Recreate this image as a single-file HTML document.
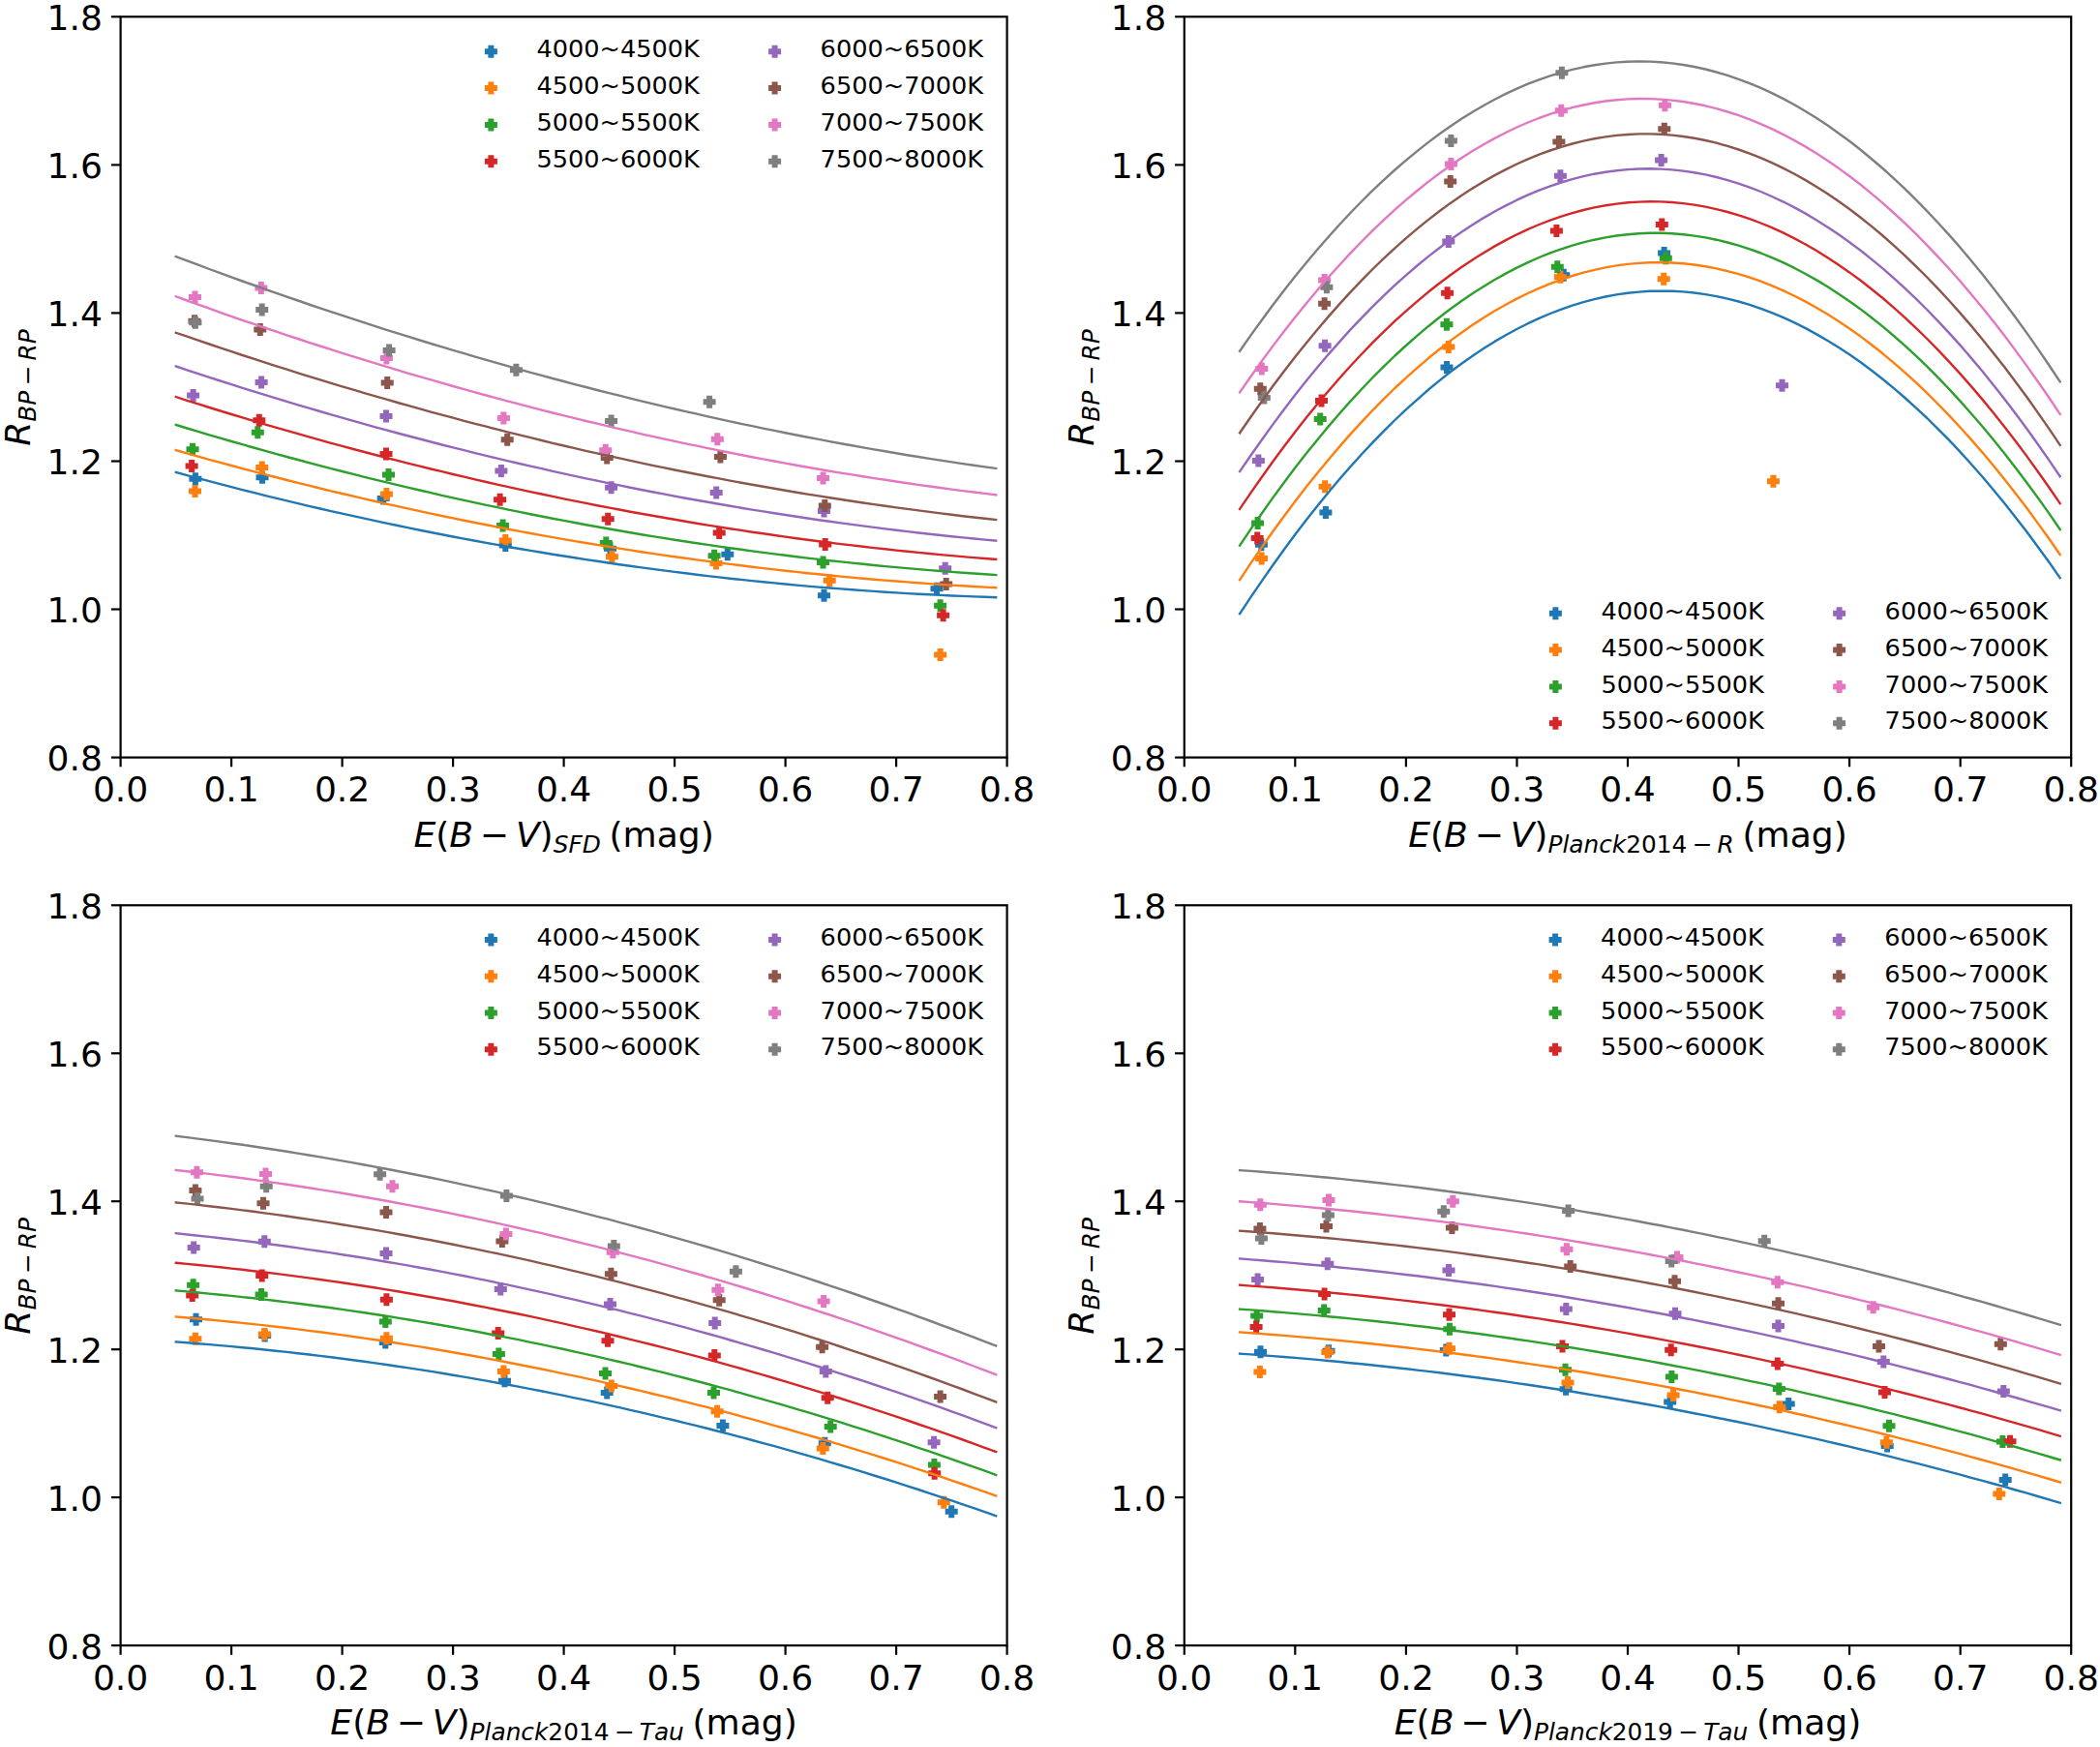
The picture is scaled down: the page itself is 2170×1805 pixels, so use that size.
<!DOCTYPE html>
<html><head><meta charset="utf-8"><title>R_BP-RP vs E(B-V)</title><style>html,body{margin:0;padding:0;background:#fff}svg{display:block}</style></head><body>
<svg width="2170" height="1805" viewBox="0 0 2170 1805" font-family="'DejaVu Sans','Liberation Sans',sans-serif">
<rect width="2170" height="1805" fill="#fff"/>
<g><path d="M198.9 488.2h6.0v3.5h3.5v6.0h-3.5v3.5h-6.0v-3.5h-3.5v-6.0h3.5z" fill="#1f77b4"/>
<path d="M268.0 486.8h6.0v3.5h3.5v6.0h-3.5v3.5h-6.0v-3.5h-3.5v-6.0h3.5z" fill="#1f77b4"/>
<path d="M393.2 508.4h6.0v3.5h3.5v6.0h-3.5v3.5h-6.0v-3.5h-3.5v-6.0h3.5z" fill="#1f77b4"/>
<path d="M519.3 556.9h6.0v3.5h3.5v6.0h-3.5v3.5h-6.0v-3.5h-3.5v-6.0h3.5z" fill="#1f77b4"/>
<path d="M627.5 560.2h6.0v3.5h3.5v6.0h-3.5v3.5h-6.0v-3.5h-3.5v-6.0h3.5z" fill="#1f77b4"/>
<path d="M748.8 566.3h6.0v3.5h3.5v6.0h-3.5v3.5h-6.0v-3.5h-3.5v-6.0h3.5z" fill="#1f77b4"/>
<path d="M848.5 608.8h6.0v3.5h3.5v6.0h-3.5v3.5h-6.0v-3.5h-3.5v-6.0h3.5z" fill="#1f77b4"/>
<path d="M965.0 601.7h6.0v3.5h3.5v6.0h-3.5v3.5h-6.0v-3.5h-3.5v-6.0h3.5z" fill="#1f77b4"/>
<path d="M198.5 501.1h6.0v3.5h3.5v6.0h-3.5v3.5h-6.0v-3.5h-3.5v-6.0h3.5z" fill="#ff7f0e"/>
<path d="M267.7 476.4h6.0v3.5h3.5v6.0h-3.5v3.5h-6.0v-3.5h-3.5v-6.0h3.5z" fill="#ff7f0e"/>
<path d="M396.4 504.0h6.0v3.5h3.5v6.0h-3.5v3.5h-6.0v-3.5h-3.5v-6.0h3.5z" fill="#ff7f0e"/>
<path d="M519.3 552.0h6.0v3.5h3.5v6.0h-3.5v3.5h-6.0v-3.5h-3.5v-6.0h3.5z" fill="#ff7f0e"/>
<path d="M629.4 568.7h6.0v3.5h3.5v6.0h-3.5v3.5h-6.0v-3.5h-3.5v-6.0h3.5z" fill="#ff7f0e"/>
<path d="M737.0 575.4h6.0v3.5h3.5v6.0h-3.5v3.5h-6.0v-3.5h-3.5v-6.0h3.5z" fill="#ff7f0e"/>
<path d="M854.2 593.3h6.0v3.5h3.5v6.0h-3.5v3.5h-6.0v-3.5h-3.5v-6.0h3.5z" fill="#ff7f0e"/>
<path d="M968.6 670.1h6.0v3.5h3.5v6.0h-3.5v3.5h-6.0v-3.5h-3.5v-6.0h3.5z" fill="#ff7f0e"/>
<path d="M196.0 457.7h6.0v3.5h3.5v6.0h-3.5v3.5h-6.0v-3.5h-3.5v-6.0h3.5z" fill="#2ca02c"/>
<path d="M263.3 440.2h6.0v3.5h3.5v6.0h-3.5v3.5h-6.0v-3.5h-3.5v-6.0h3.5z" fill="#2ca02c"/>
<path d="M398.5 484.0h6.0v3.5h3.5v6.0h-3.5v3.5h-6.0v-3.5h-3.5v-6.0h3.5z" fill="#2ca02c"/>
<path d="M516.6 536.4h6.0v3.5h3.5v6.0h-3.5v3.5h-6.0v-3.5h-3.5v-6.0h3.5z" fill="#2ca02c"/>
<path d="M623.3 554.5h6.0v3.5h3.5v6.0h-3.5v3.5h-6.0v-3.5h-3.5v-6.0h3.5z" fill="#2ca02c"/>
<path d="M735.1 567.8h6.0v3.5h3.5v6.0h-3.5v3.5h-6.0v-3.5h-3.5v-6.0h3.5z" fill="#2ca02c"/>
<path d="M847.5 574.6h6.0v3.5h3.5v6.0h-3.5v3.5h-6.0v-3.5h-3.5v-6.0h3.5z" fill="#2ca02c"/>
<path d="M968.6 619.2h6.0v3.5h3.5v6.0h-3.5v3.5h-6.0v-3.5h-3.5v-6.0h3.5z" fill="#2ca02c"/>
<path d="M195.1 475.0h6.0v3.5h3.5v6.0h-3.5v3.5h-6.0v-3.5h-3.5v-6.0h3.5z" fill="#d62728"/>
<path d="M264.8 427.8h6.0v3.5h3.5v6.0h-3.5v3.5h-6.0v-3.5h-3.5v-6.0h3.5z" fill="#d62728"/>
<path d="M396.0 462.6h6.0v3.5h3.5v6.0h-3.5v3.5h-6.0v-3.5h-3.5v-6.0h3.5z" fill="#d62728"/>
<path d="M513.6 509.7h6.0v3.5h3.5v6.0h-3.5v3.5h-6.0v-3.5h-3.5v-6.0h3.5z" fill="#d62728"/>
<path d="M625.2 529.7h6.0v3.5h3.5v6.0h-3.5v3.5h-6.0v-3.5h-3.5v-6.0h3.5z" fill="#d62728"/>
<path d="M740.2 544.0h6.0v3.5h3.5v6.0h-3.5v3.5h-6.0v-3.5h-3.5v-6.0h3.5z" fill="#d62728"/>
<path d="M849.7 556.0h6.0v3.5h3.5v6.0h-3.5v3.5h-6.0v-3.5h-3.5v-6.0h3.5z" fill="#d62728"/>
<path d="M971.6 629.2h6.0v3.5h3.5v6.0h-3.5v3.5h-6.0v-3.5h-3.5v-6.0h3.5z" fill="#d62728"/>
<path d="M196.6 402.1h6.0v3.5h3.5v6.0h-3.5v3.5h-6.0v-3.5h-3.5v-6.0h3.5z" fill="#9467bd"/>
<path d="M267.1 388.5h6.0v3.5h3.5v6.0h-3.5v3.5h-6.0v-3.5h-3.5v-6.0h3.5z" fill="#9467bd"/>
<path d="M396.0 423.6h6.0v3.5h3.5v6.0h-3.5v3.5h-6.0v-3.5h-3.5v-6.0h3.5z" fill="#9467bd"/>
<path d="M514.9 480.0h6.0v3.5h3.5v6.0h-3.5v3.5h-6.0v-3.5h-3.5v-6.0h3.5z" fill="#9467bd"/>
<path d="M628.6 497.3h6.0v3.5h3.5v6.0h-3.5v3.5h-6.0v-3.5h-3.5v-6.0h3.5z" fill="#9467bd"/>
<path d="M737.2 502.5h6.0v3.5h3.5v6.0h-3.5v3.5h-6.0v-3.5h-3.5v-6.0h3.5z" fill="#9467bd"/>
<path d="M848.5 521.6h6.0v3.5h3.5v6.0h-3.5v3.5h-6.0v-3.5h-3.5v-6.0h3.5z" fill="#9467bd"/>
<path d="M973.7 580.8h6.0v3.5h3.5v6.0h-3.5v3.5h-6.0v-3.5h-3.5v-6.0h3.5z" fill="#9467bd"/>
<path d="M198.0 325.3h6.0v3.5h3.5v6.0h-3.5v3.5h-6.0v-3.5h-3.5v-6.0h3.5z" fill="#8c564b"/>
<path d="M265.8 333.9h6.0v3.5h3.5v6.0h-3.5v3.5h-6.0v-3.5h-3.5v-6.0h3.5z" fill="#8c564b"/>
<path d="M397.2 389.1h6.0v3.5h3.5v6.0h-3.5v3.5h-6.0v-3.5h-3.5v-6.0h3.5z" fill="#8c564b"/>
<path d="M521.2 447.8h6.0v3.5h3.5v6.0h-3.5v3.5h-6.0v-3.5h-3.5v-6.0h3.5z" fill="#8c564b"/>
<path d="M624.2 466.5h6.0v3.5h3.5v6.0h-3.5v3.5h-6.0v-3.5h-3.5v-6.0h3.5z" fill="#8c564b"/>
<path d="M741.4 465.5h6.0v3.5h3.5v6.0h-3.5v3.5h-6.0v-3.5h-3.5v-6.0h3.5z" fill="#8c564b"/>
<path d="M849.3 516.1h6.0v3.5h3.5v6.0h-3.5v3.5h-6.0v-3.5h-3.5v-6.0h3.5z" fill="#8c564b"/>
<path d="M974.7 596.9h6.0v3.5h3.5v6.0h-3.5v3.5h-6.0v-3.5h-3.5v-6.0h3.5z" fill="#8c564b"/>
<path d="M198.5 300.5h6.0v3.5h3.5v6.0h-3.5v3.5h-6.0v-3.5h-3.5v-6.0h3.5z" fill="#e377c2"/>
<path d="M266.9 291.0h6.0v3.5h3.5v6.0h-3.5v3.5h-6.0v-3.5h-3.5v-6.0h3.5z" fill="#e377c2"/>
<path d="M396.4 363.6h6.0v3.5h3.5v6.0h-3.5v3.5h-6.0v-3.5h-3.5v-6.0h3.5z" fill="#e377c2"/>
<path d="M517.4 425.5h6.0v3.5h3.5v6.0h-3.5v3.5h-6.0v-3.5h-3.5v-6.0h3.5z" fill="#e377c2"/>
<path d="M622.7 458.8h6.0v3.5h3.5v6.0h-3.5v3.5h-6.0v-3.5h-3.5v-6.0h3.5z" fill="#e377c2"/>
<path d="M738.3 447.2h6.0v3.5h3.5v6.0h-3.5v3.5h-6.0v-3.5h-3.5v-6.0h3.5z" fill="#e377c2"/>
<path d="M847.5 487.5h6.0v3.5h3.5v6.0h-3.5v3.5h-6.0v-3.5h-3.5v-6.0h3.5z" fill="#e377c2"/>
<path d="M198.9 326.8h6.0v3.5h3.5v6.0h-3.5v3.5h-6.0v-3.5h-3.5v-6.0h3.5z" fill="#7f7f7f"/>
<path d="M267.7 313.5h6.0v3.5h3.5v6.0h-3.5v3.5h-6.0v-3.5h-3.5v-6.0h3.5z" fill="#7f7f7f"/>
<path d="M399.1 355.4h6.0v3.5h3.5v6.0h-3.5v3.5h-6.0v-3.5h-3.5v-6.0h3.5z" fill="#7f7f7f"/>
<path d="M628.6 428.4h6.0v3.5h3.5v6.0h-3.5v3.5h-6.0v-3.5h-3.5v-6.0h3.5z" fill="#7f7f7f"/>
<path d="M730.1 408.7h6.0v3.5h3.5v6.0h-3.5v3.5h-6.0v-3.5h-3.5v-6.0h3.5z" fill="#7f7f7f"/>
<path d="M530.4 375.8h6.0v3.5h3.5v6.0h-3.5v3.5h-6.0v-3.5h-3.5v-6.0h3.5z" fill="#7f7f7f"/>
<path d="M181.8 488.0 L193.3 491.1 L204.8 494.2 L216.2 497.2 L227.6 500.2 L239.1 503.1 L250.5 506.1 L262.0 508.9 L273.4 511.8 L284.9 514.6 L296.4 517.4 L307.8 520.1 L319.2 522.8 L330.7 525.5 L342.1 528.1 L353.6 530.7 L365.1 533.2 L376.5 535.7 L387.9 538.2 L399.4 540.6 L410.9 543.0 L422.3 545.4 L433.8 547.7 L445.2 550.0 L456.6 552.3 L468.1 554.5 L479.5 556.6 L491.0 558.8 L502.4 560.9 L513.9 562.9 L525.3 565.0 L536.8 567.0 L548.2 568.9 L559.7 570.8 L571.1 572.7 L582.6 574.5 L594.0 576.3 L605.5 578.1 L616.9 579.8 L628.4 581.5 L639.9 583.2 L651.3 584.8 L662.7 586.4 L674.2 587.9 L685.6 589.4 L697.1 590.9 L708.5 592.3 L720.0 593.7 L731.5 595.1 L742.9 596.4 L754.4 597.7 L765.8 598.9 L777.2 600.1 L788.7 601.3 L800.2 602.4 L811.6 603.5 L823.1 604.6 L834.5 605.6 L846.0 606.6 L857.4 607.5 L868.9 608.4 L880.3 609.3 L891.8 610.1 L903.2 610.9 L914.7 611.7 L926.1 612.4 L937.6 613.1 L949.0 613.7 L960.5 614.3 L971.9 614.9 L983.4 615.5 L994.8 615.9 L1006.2 616.4 L1017.7 616.8 L1029.2 617.2" fill="none" stroke="#1f77b4" stroke-width="2.4" stroke-linecap="square" stroke-linejoin="round"/>
<path d="M181.8 465.1 L193.3 468.4 L204.8 471.6 L216.2 474.8 L227.6 477.9 L239.1 481.0 L250.5 484.1 L262.0 487.1 L273.4 490.1 L284.9 493.0 L296.4 496.0 L307.8 498.8 L319.2 501.7 L330.7 504.5 L342.1 507.3 L353.6 510.0 L365.1 512.7 L376.5 515.4 L387.9 518.0 L399.4 520.6 L410.9 523.2 L422.3 525.7 L433.8 528.2 L445.2 530.6 L456.6 533.0 L468.1 535.4 L479.5 537.7 L491.0 540.0 L502.4 542.3 L513.9 544.5 L525.3 546.7 L536.8 548.9 L548.2 551.0 L559.7 553.1 L571.1 555.1 L582.6 557.1 L594.0 559.1 L605.5 561.0 L616.9 562.9 L628.4 564.8 L639.9 566.6 L651.3 568.4 L662.7 570.2 L674.2 571.9 L685.6 573.6 L697.1 575.2 L708.5 576.8 L720.0 578.4 L731.5 579.9 L742.9 581.5 L754.4 582.9 L765.8 584.3 L777.2 585.7 L788.7 587.1 L800.2 588.4 L811.6 589.7 L823.1 590.9 L834.5 592.2 L846.0 593.3 L857.4 594.5 L868.9 595.6 L880.3 596.6 L891.8 597.7 L903.2 598.7 L914.7 599.6 L926.1 600.5 L937.6 601.4 L949.0 602.3 L960.5 603.1 L971.9 603.9 L983.4 604.6 L994.8 605.3 L1006.2 606.0 L1017.7 606.6 L1029.2 607.2" fill="none" stroke="#ff7f0e" stroke-width="2.4" stroke-linecap="square" stroke-linejoin="round"/>
<path d="M181.8 439.0 L193.3 442.5 L204.8 445.9 L216.2 449.3 L227.6 452.6 L239.1 456.0 L250.5 459.2 L262.0 462.5 L273.4 465.7 L284.9 468.8 L296.4 472.0 L307.8 475.0 L319.2 478.1 L330.7 481.1 L342.1 484.1 L353.6 487.0 L365.1 489.9 L376.5 492.8 L387.9 495.6 L399.4 498.4 L410.9 501.1 L422.3 503.9 L433.8 506.5 L445.2 509.2 L456.6 511.8 L468.1 514.3 L479.5 516.9 L491.0 519.3 L502.4 521.8 L513.9 524.2 L525.3 526.6 L536.8 528.9 L548.2 531.2 L559.7 533.5 L571.1 535.7 L582.6 537.9 L594.0 540.0 L605.5 542.2 L616.9 544.2 L628.4 546.3 L639.9 548.3 L651.3 550.2 L662.7 552.2 L674.2 554.1 L685.6 555.9 L697.1 557.7 L708.5 559.5 L720.0 561.2 L731.5 562.9 L742.9 564.6 L754.4 566.2 L765.8 567.8 L777.2 569.4 L788.7 570.9 L800.2 572.4 L811.6 573.8 L823.1 575.2 L834.5 576.6 L846.0 577.9 L857.4 579.2 L868.9 580.4 L880.3 581.6 L891.8 582.8 L903.2 584.0 L914.7 585.1 L926.1 586.1 L937.6 587.1 L949.0 588.1 L960.5 589.1 L971.9 590.0 L983.4 590.9 L994.8 591.7 L1006.2 592.5 L1017.7 593.3 L1029.2 594.0" fill="none" stroke="#2ca02c" stroke-width="2.4" stroke-linecap="square" stroke-linejoin="round"/>
<path d="M181.8 410.1 L193.3 413.8 L204.8 417.4 L216.2 421.0 L227.6 424.5 L239.1 428.0 L250.5 431.4 L262.0 434.9 L273.4 438.3 L284.9 441.6 L296.4 444.9 L307.8 448.2 L319.2 451.4 L330.7 454.6 L342.1 457.8 L353.6 460.9 L365.1 464.0 L376.5 467.0 L387.9 470.0 L399.4 473.0 L410.9 475.9 L422.3 478.8 L433.8 481.6 L445.2 484.5 L456.6 487.2 L468.1 490.0 L479.5 492.7 L491.0 495.3 L502.4 498.0 L513.9 500.6 L525.3 503.1 L536.8 505.6 L548.2 508.1 L559.7 510.5 L571.1 512.9 L582.6 515.3 L594.0 517.6 L605.5 519.9 L616.9 522.2 L628.4 524.4 L639.9 526.5 L651.3 528.7 L662.7 530.8 L674.2 532.8 L685.6 534.8 L697.1 536.8 L708.5 538.8 L720.0 540.7 L731.5 542.6 L742.9 544.4 L754.4 546.2 L765.8 547.9 L777.2 549.7 L788.7 551.3 L800.2 553.0 L811.6 554.6 L823.1 556.2 L834.5 557.7 L846.0 559.2 L857.4 560.6 L868.9 562.1 L880.3 563.4 L891.8 564.8 L903.2 566.1 L914.7 567.3 L926.1 568.6 L937.6 569.8 L949.0 570.9 L960.5 572.0 L971.9 573.1 L983.4 574.1 L994.8 575.1 L1006.2 576.1 L1017.7 577.0 L1029.2 577.9" fill="none" stroke="#d62728" stroke-width="2.4" stroke-linecap="square" stroke-linejoin="round"/>
<path d="M181.8 378.5 L193.3 382.3 L204.8 386.1 L216.2 389.8 L227.6 393.5 L239.1 397.2 L250.5 400.8 L262.0 404.4 L273.4 407.9 L284.9 411.4 L296.4 414.9 L307.8 418.3 L319.2 421.7 L330.7 425.0 L342.1 428.4 L353.6 431.6 L365.1 434.9 L376.5 438.1 L387.9 441.3 L399.4 444.4 L410.9 447.5 L422.3 450.5 L433.8 453.5 L445.2 456.5 L456.6 459.5 L468.1 462.4 L479.5 465.2 L491.0 468.1 L502.4 470.9 L513.9 473.6 L525.3 476.3 L536.8 479.0 L548.2 481.6 L559.7 484.2 L571.1 486.8 L582.6 489.3 L594.0 491.8 L605.5 494.3 L616.9 496.7 L628.4 499.1 L639.9 501.4 L651.3 503.7 L662.7 506.0 L674.2 508.2 L685.6 510.4 L697.1 512.6 L708.5 514.7 L720.0 516.8 L731.5 518.8 L742.9 520.8 L754.4 522.8 L765.8 524.7 L777.2 526.6 L788.7 528.4 L800.2 530.3 L811.6 532.0 L823.1 533.8 L834.5 535.5 L846.0 537.2 L857.4 538.8 L868.9 540.4 L880.3 541.9 L891.8 543.4 L903.2 544.9 L914.7 546.4 L926.1 547.8 L937.6 549.1 L949.0 550.5 L960.5 551.8 L971.9 553.0 L983.4 554.2 L994.8 555.4 L1006.2 556.5 L1017.7 557.6 L1029.2 558.7" fill="none" stroke="#9467bd" stroke-width="2.4" stroke-linecap="square" stroke-linejoin="round"/>
<path d="M181.8 343.8 L193.3 347.7 L204.8 351.7 L216.2 355.5 L227.6 359.4 L239.1 363.2 L250.5 367.0 L262.0 370.7 L273.4 374.4 L284.9 378.1 L296.4 381.7 L307.8 385.3 L319.2 388.9 L330.7 392.4 L342.1 395.9 L353.6 399.3 L365.1 402.7 L376.5 406.1 L387.9 409.4 L399.4 412.7 L410.9 416.0 L422.3 419.2 L433.8 422.4 L445.2 425.6 L456.6 428.7 L468.1 431.7 L479.5 434.8 L491.0 437.8 L502.4 440.7 L513.9 443.7 L525.3 446.6 L536.8 449.4 L548.2 452.2 L559.7 455.0 L571.1 457.8 L582.6 460.5 L594.0 463.1 L605.5 465.8 L616.9 468.3 L628.4 470.9 L639.9 473.4 L651.3 475.9 L662.7 478.3 L674.2 480.8 L685.6 483.1 L697.1 485.5 L708.5 487.8 L720.0 490.0 L731.5 492.2 L742.9 494.4 L754.4 496.6 L765.8 498.7 L777.2 500.8 L788.7 502.8 L800.2 504.8 L811.6 506.8 L823.1 508.7 L834.5 510.6 L846.0 512.4 L857.4 514.3 L868.9 516.0 L880.3 517.8 L891.8 519.5 L903.2 521.1 L914.7 522.8 L926.1 524.4 L937.6 525.9 L949.0 527.4 L960.5 528.9 L971.9 530.4 L983.4 531.8 L994.8 533.2 L1006.2 534.5 L1017.7 535.8 L1029.2 537.0" fill="none" stroke="#8c564b" stroke-width="2.4" stroke-linecap="square" stroke-linejoin="round"/>
<path d="M181.8 306.3 L193.3 310.5 L204.8 314.6 L216.2 318.7 L227.6 322.8 L239.1 326.8 L250.5 330.8 L262.0 334.7 L273.4 338.6 L284.9 342.4 L296.4 346.3 L307.8 350.0 L319.2 353.8 L330.7 357.5 L342.1 361.2 L353.6 364.8 L365.1 368.4 L376.5 371.9 L387.9 375.4 L399.4 378.9 L410.9 382.4 L422.3 385.8 L433.8 389.1 L445.2 392.4 L456.6 395.7 L468.1 399.0 L479.5 402.2 L491.0 405.4 L502.4 408.5 L513.9 411.6 L525.3 414.6 L536.8 417.7 L548.2 420.6 L559.7 423.6 L571.1 426.5 L582.6 429.3 L594.0 432.2 L605.5 435.0 L616.9 437.7 L628.4 440.4 L639.9 443.1 L651.3 445.7 L662.7 448.3 L674.2 450.9 L685.6 453.4 L697.1 455.9 L708.5 458.3 L720.0 460.7 L731.5 463.1 L742.9 465.4 L754.4 467.7 L765.8 470.0 L777.2 472.2 L788.7 474.4 L800.2 476.5 L811.6 478.6 L823.1 480.7 L834.5 482.7 L846.0 484.7 L857.4 486.7 L868.9 488.6 L880.3 490.4 L891.8 492.3 L903.2 494.1 L914.7 495.8 L926.1 497.5 L937.6 499.2 L949.0 500.9 L960.5 502.5 L971.9 504.0 L983.4 505.6 L994.8 507.1 L1006.2 508.5 L1017.7 509.9 L1029.2 511.3" fill="none" stroke="#e377c2" stroke-width="2.4" stroke-linecap="square" stroke-linejoin="round"/>
<path d="M181.8 265.1 L193.3 269.4 L204.8 273.7 L216.2 278.0 L227.6 282.2 L239.1 286.3 L250.5 290.5 L262.0 294.5 L273.4 298.6 L284.9 302.6 L296.4 306.6 L307.8 310.5 L319.2 314.5 L330.7 318.3 L342.1 322.2 L353.6 325.9 L365.1 329.7 L376.5 333.4 L387.9 337.1 L399.4 340.8 L410.9 344.4 L422.3 347.9 L433.8 351.5 L445.2 355.0 L456.6 358.4 L468.1 361.9 L479.5 365.2 L491.0 368.6 L502.4 371.9 L513.9 375.2 L525.3 378.4 L536.8 381.6 L548.2 384.8 L559.7 387.9 L571.1 391.0 L582.6 394.0 L594.0 397.1 L605.5 400.0 L616.9 403.0 L628.4 405.9 L639.9 408.7 L651.3 411.6 L662.7 414.4 L674.2 417.1 L685.6 419.8 L697.1 422.5 L708.5 425.1 L720.0 427.7 L731.5 430.3 L742.9 432.8 L754.4 435.3 L765.8 437.8 L777.2 440.2 L788.7 442.6 L800.2 444.9 L811.6 447.2 L823.1 449.5 L834.5 451.8 L846.0 453.9 L857.4 456.1 L868.9 458.2 L880.3 460.3 L891.8 462.4 L903.2 464.4 L914.7 466.3 L926.1 468.3 L937.6 470.2 L949.0 472.0 L960.5 473.9 L971.9 475.6 L983.4 477.4 L994.8 479.1 L1006.2 480.8 L1017.7 482.4 L1029.2 484.0" fill="none" stroke="#7f7f7f" stroke-width="2.4" stroke-linecap="square" stroke-linejoin="round"/>
<path d="M124.6 782.6 v9.7" stroke="#000" stroke-width="2.2"/>
<text x="124.6" y="828.2" font-size="36.1" text-anchor="middle">0.0</text>
<path d="M239.1 782.6 v9.7" stroke="#000" stroke-width="2.2"/>
<text x="239.1" y="828.2" font-size="36.1" text-anchor="middle">0.1</text>
<path d="M353.6 782.6 v9.7" stroke="#000" stroke-width="2.2"/>
<text x="353.6" y="828.2" font-size="36.1" text-anchor="middle">0.2</text>
<path d="M468.1 782.6 v9.7" stroke="#000" stroke-width="2.2"/>
<text x="468.1" y="828.2" font-size="36.1" text-anchor="middle">0.3</text>
<path d="M582.6 782.6 v9.7" stroke="#000" stroke-width="2.2"/>
<text x="582.6" y="828.2" font-size="36.1" text-anchor="middle">0.4</text>
<path d="M697.1 782.6 v9.7" stroke="#000" stroke-width="2.2"/>
<text x="697.1" y="828.2" font-size="36.1" text-anchor="middle">0.5</text>
<path d="M811.6 782.6 v9.7" stroke="#000" stroke-width="2.2"/>
<text x="811.6" y="828.2" font-size="36.1" text-anchor="middle">0.6</text>
<path d="M926.1 782.6 v9.7" stroke="#000" stroke-width="2.2"/>
<text x="926.1" y="828.2" font-size="36.1" text-anchor="middle">0.7</text>
<path d="M1040.6 782.6 v9.7" stroke="#000" stroke-width="2.2"/>
<text x="1040.6" y="828.2" font-size="36.1" text-anchor="middle">0.8</text>
<path d="M124.6 782.6 h-9.7" stroke="#000" stroke-width="2.2"/>
<text x="106.0" y="796.4" font-size="36.1" text-anchor="end">0.8</text>
<path d="M124.6 629.5 h-9.7" stroke="#000" stroke-width="2.2"/>
<text x="106.0" y="643.3" font-size="36.1" text-anchor="end">1.0</text>
<path d="M124.6 476.5 h-9.7" stroke="#000" stroke-width="2.2"/>
<text x="106.0" y="490.3" font-size="36.1" text-anchor="end">1.2</text>
<path d="M124.6 323.4 h-9.7" stroke="#000" stroke-width="2.2"/>
<text x="106.0" y="337.2" font-size="36.1" text-anchor="end">1.4</text>
<path d="M124.6 170.4 h-9.7" stroke="#000" stroke-width="2.2"/>
<text x="106.0" y="184.2" font-size="36.1" text-anchor="end">1.6</text>
<path d="M124.6 17.3 h-9.7" stroke="#000" stroke-width="2.2"/>
<text x="106.0" y="31.1" font-size="36.1" text-anchor="end">1.8</text>
<rect x="124.6" y="17.3" width="916.0" height="765.3" fill="none" stroke="#000" stroke-width="2.2"/>
<text x="582.6" y="874.6" font-size="36.1" text-anchor="middle" style="font-kerning:none"><tspan font-style="italic">E</tspan>(<tspan font-style="italic">B</tspan><tspan dx="6.8">−</tspan><tspan font-style="italic" dx="6.8">V</tspan>)<tspan font-style="italic" font-size="24.8" dy="5.9">SFD</tspan><tspan dy="-5.9" dx="8.7">(mag)</tspan></text>
<text transform="translate(30.6 400.6) rotate(-90)" font-size="36.1" text-anchor="middle" style="font-kerning:none"><tspan font-style="italic">R</tspan><tspan font-style="italic" font-size="24.8" dy="5.9">BP<tspan dx="5.5">−</tspan><tspan dx="5">RP</tspan></tspan></text>
<path d="M504.4 46.8h6.0v3.5h3.5v6.0h-3.5v3.5h-6.0v-3.5h-3.5v-6.0h3.5z" fill="#1f77b4"/>
<text x="554.4" y="59.4" font-size="25.6">4000~4500K</text>
<path d="M504.4 84.6h6.0v3.5h3.5v6.0h-3.5v3.5h-6.0v-3.5h-3.5v-6.0h3.5z" fill="#ff7f0e"/>
<text x="554.4" y="97.2" font-size="25.6">4500~5000K</text>
<path d="M504.4 122.4h6.0v3.5h3.5v6.0h-3.5v3.5h-6.0v-3.5h-3.5v-6.0h3.5z" fill="#2ca02c"/>
<text x="554.4" y="135.0" font-size="25.6">5000~5500K</text>
<path d="M504.4 160.2h6.0v3.5h3.5v6.0h-3.5v3.5h-6.0v-3.5h-3.5v-6.0h3.5z" fill="#d62728"/>
<text x="554.4" y="172.8" font-size="25.6">5500~6000K</text>
<path d="M797.6 46.8h6.0v3.5h3.5v6.0h-3.5v3.5h-6.0v-3.5h-3.5v-6.0h3.5z" fill="#9467bd"/>
<text x="847.6" y="59.4" font-size="25.6">6000~6500K</text>
<path d="M797.6 84.6h6.0v3.5h3.5v6.0h-3.5v3.5h-6.0v-3.5h-3.5v-6.0h3.5z" fill="#8c564b"/>
<text x="847.6" y="97.2" font-size="25.6">6500~7000K</text>
<path d="M797.6 122.4h6.0v3.5h3.5v6.0h-3.5v3.5h-6.0v-3.5h-3.5v-6.0h3.5z" fill="#e377c2"/>
<text x="847.6" y="135.0" font-size="25.6">7000~7500K</text>
<path d="M797.6 160.2h6.0v3.5h3.5v6.0h-3.5v3.5h-6.0v-3.5h-3.5v-6.0h3.5z" fill="#7f7f7f"/>
<text x="847.6" y="172.8" font-size="25.6">7500~8000K</text></g>
<g><path d="M1300.4 556.3h6.0v3.5h3.5v6.0h-3.5v3.5h-6.0v-3.5h-3.5v-6.0h3.5z" fill="#1f77b4"/>
<path d="M1366.9 523.1h6.0v3.5h3.5v6.0h-3.5v3.5h-6.0v-3.5h-3.5v-6.0h3.5z" fill="#1f77b4"/>
<path d="M1492.0 373.0h6.0v3.5h3.5v6.0h-3.5v3.5h-6.0v-3.5h-3.5v-6.0h3.5z" fill="#1f77b4"/>
<path d="M1612.8 277.8h6.0v3.5h3.5v6.0h-3.5v3.5h-6.0v-3.5h-3.5v-6.0h3.5z" fill="#1f77b4"/>
<path d="M1716.6 254.9h6.0v3.5h3.5v6.0h-3.5v3.5h-6.0v-3.5h-3.5v-6.0h3.5z" fill="#1f77b4"/>
<path d="M1300.6 570.5h6.0v3.5h3.5v6.0h-3.5v3.5h-6.0v-3.5h-3.5v-6.0h3.5z" fill="#ff7f0e"/>
<path d="M1366.1 496.3h6.0v3.5h3.5v6.0h-3.5v3.5h-6.0v-3.5h-3.5v-6.0h3.5z" fill="#ff7f0e"/>
<path d="M1493.8 352.1h6.0v3.5h3.5v6.0h-3.5v3.5h-6.0v-3.5h-3.5v-6.0h3.5z" fill="#ff7f0e"/>
<path d="M1609.4 279.7h6.0v3.5h3.5v6.0h-3.5v3.5h-6.0v-3.5h-3.5v-6.0h3.5z" fill="#ff7f0e"/>
<path d="M1716.2 281.8h6.0v3.5h3.5v6.0h-3.5v3.5h-6.0v-3.5h-3.5v-6.0h3.5z" fill="#ff7f0e"/>
<path d="M1829.4 490.7h6.0v3.5h3.5v6.0h-3.5v3.5h-6.0v-3.5h-3.5v-6.0h3.5z" fill="#ff7f0e"/>
<path d="M1296.6 534.0h6.0v3.5h3.5v6.0h-3.5v3.5h-6.0v-3.5h-3.5v-6.0h3.5z" fill="#2ca02c"/>
<path d="M1361.2 426.4h6.0v3.5h3.5v6.0h-3.5v3.5h-6.0v-3.5h-3.5v-6.0h3.5z" fill="#2ca02c"/>
<path d="M1491.9 328.8h6.0v3.5h3.5v6.0h-3.5v3.5h-6.0v-3.5h-3.5v-6.0h3.5z" fill="#2ca02c"/>
<path d="M1606.3 269.2h6.0v3.5h3.5v6.0h-3.5v3.5h-6.0v-3.5h-3.5v-6.0h3.5z" fill="#2ca02c"/>
<path d="M1718.3 260.3h6.0v3.5h3.5v6.0h-3.5v3.5h-6.0v-3.5h-3.5v-6.0h3.5z" fill="#2ca02c"/>
<path d="M1296.2 549.6h6.0v3.5h3.5v6.0h-3.5v3.5h-6.0v-3.5h-3.5v-6.0h3.5z" fill="#d62728"/>
<path d="M1362.5 407.5h6.0v3.5h3.5v6.0h-3.5v3.5h-6.0v-3.5h-3.5v-6.0h3.5z" fill="#d62728"/>
<path d="M1492.6 296.3h6.0v3.5h3.5v6.0h-3.5v3.5h-6.0v-3.5h-3.5v-6.0h3.5z" fill="#d62728"/>
<path d="M1605.4 231.9h6.0v3.5h3.5v6.0h-3.5v3.5h-6.0v-3.5h-3.5v-6.0h3.5z" fill="#d62728"/>
<path d="M1714.3 225.4h6.0v3.5h3.5v6.0h-3.5v3.5h-6.0v-3.5h-3.5v-6.0h3.5z" fill="#d62728"/>
<path d="M1297.4 469.6h6.0v3.5h3.5v6.0h-3.5v3.5h-6.0v-3.5h-3.5v-6.0h3.5z" fill="#9467bd"/>
<path d="M1366.1 350.7h6.0v3.5h3.5v6.0h-3.5v3.5h-6.0v-3.5h-3.5v-6.0h3.5z" fill="#9467bd"/>
<path d="M1493.8 242.9h6.0v3.5h3.5v6.0h-3.5v3.5h-6.0v-3.5h-3.5v-6.0h3.5z" fill="#9467bd"/>
<path d="M1609.4 175.3h6.0v3.5h3.5v6.0h-3.5v3.5h-6.0v-3.5h-3.5v-6.0h3.5z" fill="#9467bd"/>
<path d="M1713.6 159.1h6.0v3.5h3.5v6.0h-3.5v3.5h-6.0v-3.5h-3.5v-6.0h3.5z" fill="#9467bd"/>
<path d="M1838.5 391.7h6.0v3.5h3.5v6.0h-3.5v3.5h-6.0v-3.5h-3.5v-6.0h3.5z" fill="#9467bd"/>
<path d="M1299.3 395.3h6.0v3.5h3.5v6.0h-3.5v3.5h-6.0v-3.5h-3.5v-6.0h3.5z" fill="#8c564b"/>
<path d="M1365.6 307.3h6.0v3.5h3.5v6.0h-3.5v3.5h-6.0v-3.5h-3.5v-6.0h3.5z" fill="#8c564b"/>
<path d="M1495.7 181.0h6.0v3.5h3.5v6.0h-3.5v3.5h-6.0v-3.5h-3.5v-6.0h3.5z" fill="#8c564b"/>
<path d="M1607.9 140.1h6.0v3.5h3.5v6.0h-3.5v3.5h-6.0v-3.5h-3.5v-6.0h3.5z" fill="#8c564b"/>
<path d="M1716.8 126.7h6.0v3.5h3.5v6.0h-3.5v3.5h-6.0v-3.5h-3.5v-6.0h3.5z" fill="#8c564b"/>
<path d="M1300.8 374.5h6.0v3.5h3.5v6.0h-3.5v3.5h-6.0v-3.5h-3.5v-6.0h3.5z" fill="#e377c2"/>
<path d="M1365.6 282.9h6.0v3.5h3.5v6.0h-3.5v3.5h-6.0v-3.5h-3.5v-6.0h3.5z" fill="#e377c2"/>
<path d="M1496.4 163.1h6.0v3.5h3.5v6.0h-3.5v3.5h-6.0v-3.5h-3.5v-6.0h3.5z" fill="#e377c2"/>
<path d="M1610.3 107.7h6.0v3.5h3.5v6.0h-3.5v3.5h-6.0v-3.5h-3.5v-6.0h3.5z" fill="#e377c2"/>
<path d="M1717.4 102.2h6.0v3.5h3.5v6.0h-3.5v3.5h-6.0v-3.5h-3.5v-6.0h3.5z" fill="#e377c2"/>
<path d="M1303.3 404.5h6.0v3.5h3.5v6.0h-3.5v3.5h-6.0v-3.5h-3.5v-6.0h3.5z" fill="#7f7f7f"/>
<path d="M1367.9 290.2h6.0v3.5h3.5v6.0h-3.5v3.5h-6.0v-3.5h-3.5v-6.0h3.5z" fill="#7f7f7f"/>
<path d="M1496.4 139.1h6.0v3.5h3.5v6.0h-3.5v3.5h-6.0v-3.5h-3.5v-6.0h3.5z" fill="#7f7f7f"/>
<path d="M1610.9 68.8h6.0v3.5h3.5v6.0h-3.5v3.5h-6.0v-3.5h-3.5v-6.0h3.5z" fill="#7f7f7f"/>
<path d="M1281.1 634.2 L1292.5 616.9 L1304.0 600.1 L1315.4 583.7 L1326.9 567.8 L1338.3 552.3 L1349.8 537.3 L1361.3 522.8 L1372.7 508.7 L1384.2 495.1 L1395.6 482.0 L1407.1 469.3 L1418.5 457.1 L1430.0 445.3 L1441.4 434.0 L1452.9 423.1 L1464.4 412.8 L1475.8 402.8 L1487.3 393.4 L1498.7 384.3 L1510.2 375.8 L1521.6 367.7 L1533.1 360.1 L1544.5 352.9 L1556.0 346.2 L1567.4 340.0 L1578.9 334.2 L1590.4 328.8 L1601.8 324.0 L1613.3 319.6 L1624.7 315.6 L1636.2 312.1 L1647.6 309.1 L1659.1 306.5 L1670.5 304.4 L1682.0 302.8 L1693.5 301.6 L1704.9 300.8 L1716.4 300.6 L1727.8 300.7 L1739.3 301.4 L1750.7 302.5 L1762.2 304.1 L1773.6 306.1 L1785.1 308.6 L1796.5 311.5 L1808.0 314.9 L1819.5 318.8 L1830.9 323.1 L1842.4 327.9 L1853.8 333.2 L1865.3 338.9 L1876.7 345.1 L1888.2 351.7 L1899.6 358.8 L1911.1 366.3 L1922.6 374.3 L1934.0 382.8 L1945.5 391.7 L1956.9 401.1 L1968.4 411.0 L1979.8 421.3 L1991.3 432.0 L2002.7 443.3 L2014.2 454.9 L2025.7 467.1 L2037.1 479.7 L2048.6 492.8 L2060.0 506.3 L2071.5 520.3 L2082.9 534.7 L2094.4 549.6 L2105.8 565.0 L2117.3 580.8 L2128.7 597.1" fill="none" stroke="#1f77b4" stroke-width="2.4" stroke-linecap="square" stroke-linejoin="round"/>
<path d="M1281.1 599.1 L1292.5 581.9 L1304.0 565.3 L1315.4 549.0 L1326.9 533.3 L1338.3 518.0 L1349.8 503.1 L1361.3 488.8 L1372.7 474.9 L1384.2 461.4 L1395.6 448.4 L1407.1 435.9 L1418.5 423.8 L1430.0 412.2 L1441.4 401.0 L1452.9 390.3 L1464.4 380.1 L1475.8 370.3 L1487.3 361.0 L1498.7 352.1 L1510.2 343.7 L1521.6 335.8 L1533.1 328.3 L1544.5 321.3 L1556.0 314.7 L1567.4 308.6 L1578.9 303.0 L1590.4 297.8 L1601.8 293.1 L1613.3 288.8 L1624.7 285.0 L1636.2 281.7 L1647.6 278.8 L1659.1 276.4 L1670.5 274.4 L1682.0 272.9 L1693.5 271.9 L1704.9 271.3 L1716.4 271.2 L1727.8 271.5 L1739.3 272.3 L1750.7 273.5 L1762.2 275.3 L1773.6 277.4 L1785.1 280.1 L1796.5 283.2 L1808.0 286.7 L1819.5 290.7 L1830.9 295.2 L1842.4 300.2 L1853.8 305.5 L1865.3 311.4 L1876.7 317.7 L1888.2 324.5 L1899.6 331.7 L1911.1 339.4 L1922.6 347.6 L1934.0 356.2 L1945.5 365.3 L1956.9 374.8 L1968.4 384.8 L1979.8 395.2 L1991.3 406.2 L2002.7 417.5 L2014.2 429.4 L2025.7 441.7 L2037.1 454.4 L2048.6 467.6 L2060.0 481.3 L2071.5 495.4 L2082.9 510.0 L2094.4 525.1 L2105.8 540.6 L2117.3 556.5 L2128.7 573.0" fill="none" stroke="#ff7f0e" stroke-width="2.4" stroke-linecap="square" stroke-linejoin="round"/>
<path d="M1281.1 563.7 L1292.5 546.7 L1304.0 530.2 L1315.4 514.1 L1326.9 498.5 L1338.3 483.3 L1349.8 468.6 L1361.3 454.4 L1372.7 440.6 L1384.2 427.3 L1395.6 414.4 L1407.1 402.0 L1418.5 390.0 L1430.0 378.6 L1441.4 367.5 L1452.9 357.0 L1464.4 346.9 L1475.8 337.2 L1487.3 328.0 L1498.7 319.3 L1510.2 311.0 L1521.6 303.2 L1533.1 295.9 L1544.5 289.0 L1556.0 282.6 L1567.4 276.6 L1578.9 271.1 L1590.4 266.0 L1601.8 261.4 L1613.3 257.3 L1624.7 253.6 L1636.2 250.4 L1647.6 247.7 L1659.1 245.4 L1670.5 243.5 L1682.0 242.2 L1693.5 241.2 L1704.9 240.8 L1716.4 240.8 L1727.8 241.3 L1739.3 242.2 L1750.7 243.6 L1762.2 245.4 L1773.6 247.7 L1785.1 250.5 L1796.5 253.7 L1808.0 257.4 L1819.5 261.5 L1830.9 266.1 L1842.4 271.2 L1853.8 276.7 L1865.3 282.7 L1876.7 289.1 L1888.2 296.0 L1899.6 303.4 L1911.1 311.2 L1922.6 319.4 L1934.0 328.2 L1945.5 337.4 L1956.9 347.0 L1968.4 357.1 L1979.8 367.7 L1991.3 378.7 L2002.7 390.2 L2014.2 402.2 L2025.7 414.6 L2037.1 427.5 L2048.6 440.8 L2060.0 454.6 L2071.5 468.8 L2082.9 483.5 L2094.4 498.7 L2105.8 514.3 L2117.3 530.4 L2128.7 547.0" fill="none" stroke="#2ca02c" stroke-width="2.4" stroke-linecap="square" stroke-linejoin="round"/>
<path d="M1281.1 525.9 L1292.5 509.1 L1304.0 492.7 L1315.4 476.7 L1326.9 461.2 L1338.3 446.2 L1349.8 431.6 L1361.3 417.5 L1372.7 403.9 L1384.2 390.7 L1395.6 378.0 L1407.1 365.7 L1418.5 353.9 L1430.0 342.6 L1441.4 331.7 L1452.9 321.3 L1464.4 311.3 L1475.8 301.8 L1487.3 292.7 L1498.7 284.2 L1510.2 276.0 L1521.6 268.4 L1533.1 261.2 L1544.5 254.4 L1556.0 248.1 L1567.4 242.3 L1578.9 236.9 L1590.4 232.0 L1601.8 227.6 L1613.3 223.6 L1624.7 220.1 L1636.2 217.0 L1647.6 214.4 L1659.1 212.3 L1670.5 210.6 L1682.0 209.3 L1693.5 208.6 L1704.9 208.3 L1716.4 208.4 L1727.8 209.0 L1739.3 210.1 L1750.7 211.6 L1762.2 213.6 L1773.6 216.1 L1785.1 219.0 L1796.5 222.4 L1808.0 226.2 L1819.5 230.5 L1830.9 235.2 L1842.4 240.4 L1853.8 246.1 L1865.3 252.2 L1876.7 258.8 L1888.2 265.9 L1899.6 273.4 L1911.1 281.4 L1922.6 289.8 L1934.0 298.7 L1945.5 308.0 L1956.9 317.8 L1968.4 328.1 L1979.8 338.8 L1991.3 350.0 L2002.7 361.7 L2014.2 373.8 L2025.7 386.4 L2037.1 399.4 L2048.6 412.9 L2060.0 426.8 L2071.5 441.2 L2082.9 456.1 L2094.4 471.4 L2105.8 487.2 L2117.3 503.5 L2128.7 520.2" fill="none" stroke="#d62728" stroke-width="2.4" stroke-linecap="square" stroke-linejoin="round"/>
<path d="M1281.1 487.2 L1292.5 470.5 L1304.0 454.2 L1315.4 438.4 L1326.9 423.0 L1338.3 408.1 L1349.8 393.6 L1361.3 379.6 L1372.7 366.1 L1384.2 353.1 L1395.6 340.4 L1407.1 328.3 L1418.5 316.6 L1430.0 305.4 L1441.4 294.6 L1452.9 284.3 L1464.4 274.5 L1475.8 265.1 L1487.3 256.2 L1498.7 247.7 L1510.2 239.7 L1521.6 232.2 L1533.1 225.1 L1544.5 218.5 L1556.0 212.4 L1567.4 206.7 L1578.9 201.4 L1590.4 196.7 L1601.8 192.4 L1613.3 188.5 L1624.7 185.1 L1636.2 182.2 L1647.6 179.7 L1659.1 177.7 L1670.5 176.2 L1682.0 175.1 L1693.5 174.5 L1704.9 174.3 L1716.4 174.6 L1727.8 175.4 L1739.3 176.6 L1750.7 178.3 L1762.2 180.4 L1773.6 183.0 L1785.1 186.1 L1796.5 189.6 L1808.0 193.6 L1819.5 198.0 L1830.9 203.0 L1842.4 208.3 L1853.8 214.1 L1865.3 220.4 L1876.7 227.2 L1888.2 234.4 L1899.6 242.1 L1911.1 250.2 L1922.6 258.8 L1934.0 267.9 L1945.5 277.4 L1956.9 287.3 L1968.4 297.8 L1979.8 308.7 L1991.3 320.0 L2002.7 331.9 L2014.2 344.1 L2025.7 356.9 L2037.1 370.1 L2048.6 383.7 L2060.0 397.9 L2071.5 412.5 L2082.9 427.5 L2094.4 443.0 L2105.8 459.0 L2117.3 475.4 L2128.7 492.3" fill="none" stroke="#9467bd" stroke-width="2.4" stroke-linecap="square" stroke-linejoin="round"/>
<path d="M1281.1 447.3 L1292.5 430.7 L1304.0 414.5 L1315.4 398.8 L1326.9 383.5 L1338.3 368.7 L1349.8 354.4 L1361.3 340.5 L1372.7 327.1 L1384.2 314.1 L1395.6 301.6 L1407.1 289.6 L1418.5 278.0 L1430.0 266.9 L1441.4 256.3 L1452.9 246.1 L1464.4 236.4 L1475.8 227.1 L1487.3 218.3 L1498.7 209.9 L1510.2 202.0 L1521.6 194.6 L1533.1 187.6 L1544.5 181.1 L1556.0 175.1 L1567.4 169.5 L1578.9 164.4 L1590.4 159.7 L1601.8 155.5 L1613.3 151.8 L1624.7 148.5 L1636.2 145.6 L1647.6 143.3 L1659.1 141.4 L1670.5 139.9 L1682.0 139.0 L1693.5 138.4 L1704.9 138.4 L1716.4 138.8 L1727.8 139.6 L1739.3 141.0 L1750.7 142.7 L1762.2 145.0 L1773.6 147.7 L1785.1 150.8 L1796.5 154.5 L1808.0 158.6 L1819.5 163.1 L1830.9 168.1 L1842.4 173.6 L1853.8 179.5 L1865.3 185.9 L1876.7 192.7 L1888.2 200.0 L1899.6 207.8 L1911.1 216.0 L1922.6 224.7 L1934.0 233.9 L1945.5 243.5 L1956.9 253.6 L1968.4 264.1 L1979.8 275.1 L1991.3 286.5 L2002.7 298.4 L2014.2 310.8 L2025.7 323.6 L2037.1 336.9 L2048.6 350.7 L2060.0 364.9 L2071.5 379.6 L2082.9 394.7 L2094.4 410.3 L2105.8 426.4 L2117.3 442.9 L2128.7 459.9" fill="none" stroke="#8c564b" stroke-width="2.4" stroke-linecap="square" stroke-linejoin="round"/>
<path d="M1281.1 405.4 L1292.5 389.0 L1304.0 372.9 L1315.4 357.4 L1326.9 342.3 L1338.3 327.7 L1349.8 313.5 L1361.3 299.8 L1372.7 286.5 L1384.2 273.7 L1395.6 261.4 L1407.1 249.5 L1418.5 238.1 L1430.0 227.1 L1441.4 216.6 L1452.9 206.6 L1464.4 197.0 L1475.8 187.9 L1487.3 179.3 L1498.7 171.1 L1510.2 163.3 L1521.6 156.0 L1533.1 149.2 L1544.5 142.9 L1556.0 137.0 L1567.4 131.5 L1578.9 126.5 L1590.4 122.0 L1601.8 117.9 L1613.3 114.3 L1624.7 111.2 L1636.2 108.5 L1647.6 106.3 L1659.1 104.5 L1670.5 103.2 L1682.0 102.4 L1693.5 102.0 L1704.9 102.1 L1716.4 102.6 L1727.8 103.6 L1739.3 105.0 L1750.7 107.0 L1762.2 109.3 L1773.6 112.2 L1785.1 115.5 L1796.5 119.2 L1808.0 123.4 L1819.5 128.1 L1830.9 133.2 L1842.4 138.8 L1853.8 144.9 L1865.3 151.4 L1876.7 158.3 L1888.2 165.8 L1899.6 173.6 L1911.1 182.0 L1922.6 190.8 L1934.0 200.1 L1945.5 209.8 L1956.9 220.0 L1968.4 230.6 L1979.8 241.7 L1991.3 253.3 L2002.7 265.3 L2014.2 277.8 L2025.7 290.7 L2037.1 304.2 L2048.6 318.0 L2060.0 332.3 L2071.5 347.1 L2082.9 362.4 L2094.4 378.1 L2105.8 394.2 L2117.3 410.8 L2128.7 427.9" fill="none" stroke="#e377c2" stroke-width="2.4" stroke-linecap="square" stroke-linejoin="round"/>
<path d="M1281.1 362.8 L1292.5 346.4 L1304.0 330.5 L1315.4 315.0 L1326.9 300.0 L1338.3 285.5 L1349.8 271.5 L1361.3 257.8 L1372.7 244.7 L1384.2 232.0 L1395.6 219.8 L1407.1 208.0 L1418.5 196.7 L1430.0 185.9 L1441.4 175.5 L1452.9 165.6 L1464.4 156.1 L1475.8 147.1 L1487.3 138.5 L1498.7 130.5 L1510.2 122.8 L1521.6 115.7 L1533.1 109.0 L1544.5 102.7 L1556.0 96.9 L1567.4 91.6 L1578.9 86.7 L1590.4 82.3 L1601.8 78.4 L1613.3 74.9 L1624.7 71.9 L1636.2 69.3 L1647.6 67.2 L1659.1 65.6 L1670.5 64.4 L1682.0 63.7 L1693.5 63.4 L1704.9 63.6 L1716.4 64.3 L1727.8 65.4 L1739.3 67.0 L1750.7 69.0 L1762.2 71.5 L1773.6 74.5 L1785.1 77.9 L1796.5 81.8 L1808.0 86.1 L1819.5 90.9 L1830.9 96.1 L1842.4 101.9 L1853.8 108.0 L1865.3 114.7 L1876.7 121.8 L1888.2 129.3 L1899.6 137.4 L1911.1 145.8 L1922.6 154.8 L1934.0 164.2 L1945.5 174.0 L1956.9 184.4 L1968.4 195.1 L1979.8 206.4 L1991.3 218.1 L2002.7 230.2 L2014.2 242.9 L2025.7 255.9 L2037.1 269.5 L2048.6 283.5 L2060.0 297.9 L2071.5 312.9 L2082.9 328.2 L2094.4 344.1 L2105.8 360.4 L2117.3 377.2 L2128.7 394.4" fill="none" stroke="#7f7f7f" stroke-width="2.4" stroke-linecap="square" stroke-linejoin="round"/>
<path d="M1223.8 782.6 v9.7" stroke="#000" stroke-width="2.2"/>
<text x="1223.8" y="828.2" font-size="36.1" text-anchor="middle">0.0</text>
<path d="M1338.3 782.6 v9.7" stroke="#000" stroke-width="2.2"/>
<text x="1338.3" y="828.2" font-size="36.1" text-anchor="middle">0.1</text>
<path d="M1452.9 782.6 v9.7" stroke="#000" stroke-width="2.2"/>
<text x="1452.9" y="828.2" font-size="36.1" text-anchor="middle">0.2</text>
<path d="M1567.5 782.6 v9.7" stroke="#000" stroke-width="2.2"/>
<text x="1567.5" y="828.2" font-size="36.1" text-anchor="middle">0.3</text>
<path d="M1682.0 782.6 v9.7" stroke="#000" stroke-width="2.2"/>
<text x="1682.0" y="828.2" font-size="36.1" text-anchor="middle">0.4</text>
<path d="M1796.5 782.6 v9.7" stroke="#000" stroke-width="2.2"/>
<text x="1796.5" y="828.2" font-size="36.1" text-anchor="middle">0.5</text>
<path d="M1911.1 782.6 v9.7" stroke="#000" stroke-width="2.2"/>
<text x="1911.1" y="828.2" font-size="36.1" text-anchor="middle">0.6</text>
<path d="M2025.7 782.6 v9.7" stroke="#000" stroke-width="2.2"/>
<text x="2025.7" y="828.2" font-size="36.1" text-anchor="middle">0.7</text>
<path d="M2140.2 782.6 v9.7" stroke="#000" stroke-width="2.2"/>
<text x="2140.2" y="828.2" font-size="36.1" text-anchor="middle">0.8</text>
<path d="M1223.8 782.6 h-9.7" stroke="#000" stroke-width="2.2"/>
<text x="1205.2" y="796.4" font-size="36.1" text-anchor="end">0.8</text>
<path d="M1223.8 629.5 h-9.7" stroke="#000" stroke-width="2.2"/>
<text x="1205.2" y="643.3" font-size="36.1" text-anchor="end">1.0</text>
<path d="M1223.8 476.5 h-9.7" stroke="#000" stroke-width="2.2"/>
<text x="1205.2" y="490.3" font-size="36.1" text-anchor="end">1.2</text>
<path d="M1223.8 323.4 h-9.7" stroke="#000" stroke-width="2.2"/>
<text x="1205.2" y="337.2" font-size="36.1" text-anchor="end">1.4</text>
<path d="M1223.8 170.4 h-9.7" stroke="#000" stroke-width="2.2"/>
<text x="1205.2" y="184.2" font-size="36.1" text-anchor="end">1.6</text>
<path d="M1223.8 17.3 h-9.7" stroke="#000" stroke-width="2.2"/>
<text x="1205.2" y="31.1" font-size="36.1" text-anchor="end">1.8</text>
<rect x="1223.8" y="17.3" width="916.4" height="765.3" fill="none" stroke="#000" stroke-width="2.2"/>
<text x="1682.0" y="874.6" font-size="36.1" text-anchor="middle" style="font-kerning:none"><tspan font-style="italic">E</tspan>(<tspan font-style="italic">B</tspan><tspan dx="6.8">−</tspan><tspan font-style="italic" dx="6.8">V</tspan>)<tspan font-style="italic" font-size="24.8" dy="5.9">Planck<tspan font-style="normal">2014</tspan><tspan dx="5.5">−</tspan><tspan dx="5">R</tspan></tspan><tspan dy="-5.9" dx="8.7">(mag)</tspan></text>
<text transform="translate(1129.8 400.6) rotate(-90)" font-size="36.1" text-anchor="middle" style="font-kerning:none"><tspan font-style="italic">R</tspan><tspan font-style="italic" font-size="24.8" dy="5.9">BP<tspan dx="5.5">−</tspan><tspan dx="5">RP</tspan></tspan></text>
<path d="M1604.4 627.3h6.0v3.5h3.5v6.0h-3.5v3.5h-6.0v-3.5h-3.5v-6.0h3.5z" fill="#1f77b4"/>
<text x="1654.4" y="639.9" font-size="25.6">4000~4500K</text>
<path d="M1604.4 665.1h6.0v3.5h3.5v6.0h-3.5v3.5h-6.0v-3.5h-3.5v-6.0h3.5z" fill="#ff7f0e"/>
<text x="1654.4" y="677.7" font-size="25.6">4500~5000K</text>
<path d="M1604.4 702.9h6.0v3.5h3.5v6.0h-3.5v3.5h-6.0v-3.5h-3.5v-6.0h3.5z" fill="#2ca02c"/>
<text x="1654.4" y="715.5" font-size="25.6">5000~5500K</text>
<path d="M1604.4 740.7h6.0v3.5h3.5v6.0h-3.5v3.5h-6.0v-3.5h-3.5v-6.0h3.5z" fill="#d62728"/>
<text x="1654.4" y="753.3" font-size="25.6">5500~6000K</text>
<path d="M1897.6 627.3h6.0v3.5h3.5v6.0h-3.5v3.5h-6.0v-3.5h-3.5v-6.0h3.5z" fill="#9467bd"/>
<text x="1947.6" y="639.9" font-size="25.6">6000~6500K</text>
<path d="M1897.6 665.1h6.0v3.5h3.5v6.0h-3.5v3.5h-6.0v-3.5h-3.5v-6.0h3.5z" fill="#8c564b"/>
<text x="1947.6" y="677.7" font-size="25.6">6500~7000K</text>
<path d="M1897.6 702.9h6.0v3.5h3.5v6.0h-3.5v3.5h-6.0v-3.5h-3.5v-6.0h3.5z" fill="#e377c2"/>
<text x="1947.6" y="715.5" font-size="25.6">7000~7500K</text>
<path d="M1897.6 740.7h6.0v3.5h3.5v6.0h-3.5v3.5h-6.0v-3.5h-3.5v-6.0h3.5z" fill="#7f7f7f"/>
<text x="1947.6" y="753.3" font-size="25.6">7500~8000K</text></g>
<g><path d="M199.5 1356.8h6.0v3.5h3.5v6.0h-3.5v3.5h-6.0v-3.5h-3.5v-6.0h3.5z" fill="#1f77b4"/>
<path d="M270.7 1373.4h6.0v3.5h3.5v6.0h-3.5v3.5h-6.0v-3.5h-3.5v-6.0h3.5z" fill="#1f77b4"/>
<path d="M395.3 1380.6h6.0v3.5h3.5v6.0h-3.5v3.5h-6.0v-3.5h-3.5v-6.0h3.5z" fill="#1f77b4"/>
<path d="M518.5 1420.2h6.0v3.5h3.5v6.0h-3.5v3.5h-6.0v-3.5h-3.5v-6.0h3.5z" fill="#1f77b4"/>
<path d="M624.2 1432.5h6.0v3.5h3.5v6.0h-3.5v3.5h-6.0v-3.5h-3.5v-6.0h3.5z" fill="#1f77b4"/>
<path d="M743.9 1466.5h6.0v3.5h3.5v6.0h-3.5v3.5h-6.0v-3.5h-3.5v-6.0h3.5z" fill="#1f77b4"/>
<path d="M849.3 1484.7h6.0v3.5h3.5v6.0h-3.5v3.5h-6.0v-3.5h-3.5v-6.0h3.5z" fill="#1f77b4"/>
<path d="M980.2 1555.3h6.0v3.5h3.5v6.0h-3.5v3.5h-6.0v-3.5h-3.5v-6.0h3.5z" fill="#1f77b4"/>
<path d="M198.9 1376.8h6.0v3.5h3.5v6.0h-3.5v3.5h-6.0v-3.5h-3.5v-6.0h3.5z" fill="#ff7f0e"/>
<path d="M270.3 1372.1h6.0v3.5h3.5v6.0h-3.5v3.5h-6.0v-3.5h-3.5v-6.0h3.5z" fill="#ff7f0e"/>
<path d="M396.4 1376.3h6.0v3.5h3.5v6.0h-3.5v3.5h-6.0v-3.5h-3.5v-6.0h3.5z" fill="#ff7f0e"/>
<path d="M517.4 1410.6h6.0v3.5h3.5v6.0h-3.5v3.5h-6.0v-3.5h-3.5v-6.0h3.5z" fill="#ff7f0e"/>
<path d="M628.8 1425.5h6.0v3.5h3.5v6.0h-3.5v3.5h-6.0v-3.5h-3.5v-6.0h3.5z" fill="#ff7f0e"/>
<path d="M738.1 1451.8h6.0v3.5h3.5v6.0h-3.5v3.5h-6.0v-3.5h-3.5v-6.0h3.5z" fill="#ff7f0e"/>
<path d="M847.3 1489.9h6.0v3.5h3.5v6.0h-3.5v3.5h-6.0v-3.5h-3.5v-6.0h3.5z" fill="#ff7f0e"/>
<path d="M972.3 1545.7h6.0v3.5h3.5v6.0h-3.5v3.5h-6.0v-3.5h-3.5v-6.0h3.5z" fill="#ff7f0e"/>
<path d="M196.6 1321.2h6.0v3.5h3.5v6.0h-3.5v3.5h-6.0v-3.5h-3.5v-6.0h3.5z" fill="#2ca02c"/>
<path d="M267.1 1331.1h6.0v3.5h3.5v6.0h-3.5v3.5h-6.0v-3.5h-3.5v-6.0h3.5z" fill="#2ca02c"/>
<path d="M395.3 1359.1h6.0v3.5h3.5v6.0h-3.5v3.5h-6.0v-3.5h-3.5v-6.0h3.5z" fill="#2ca02c"/>
<path d="M512.4 1392.5h6.0v3.5h3.5v6.0h-3.5v3.5h-6.0v-3.5h-3.5v-6.0h3.5z" fill="#2ca02c"/>
<path d="M622.5 1412.5h6.0v3.5h3.5v6.0h-3.5v3.5h-6.0v-3.5h-3.5v-6.0h3.5z" fill="#2ca02c"/>
<path d="M734.5 1432.5h6.0v3.5h3.5v6.0h-3.5v3.5h-6.0v-3.5h-3.5v-6.0h3.5z" fill="#2ca02c"/>
<path d="M855.2 1467.4h6.0v3.5h3.5v6.0h-3.5v3.5h-6.0v-3.5h-3.5v-6.0h3.5z" fill="#2ca02c"/>
<path d="M962.4 1507.0h6.0v3.5h3.5v6.0h-3.5v3.5h-6.0v-3.5h-3.5v-6.0h3.5z" fill="#2ca02c"/>
<path d="M195.7 1332.1h6.0v3.5h3.5v6.0h-3.5v3.5h-6.0v-3.5h-3.5v-6.0h3.5z" fill="#d62728"/>
<path d="M267.7 1311.5h6.0v3.5h3.5v6.0h-3.5v3.5h-6.0v-3.5h-3.5v-6.0h3.5z" fill="#d62728"/>
<path d="M396.4 1336.3h6.0v3.5h3.5v6.0h-3.5v3.5h-6.0v-3.5h-3.5v-6.0h3.5z" fill="#d62728"/>
<path d="M511.7 1371.0h6.0v3.5h3.5v6.0h-3.5v3.5h-6.0v-3.5h-3.5v-6.0h3.5z" fill="#d62728"/>
<path d="M625.0 1378.8h6.0v3.5h3.5v6.0h-3.5v3.5h-6.0v-3.5h-3.5v-6.0h3.5z" fill="#d62728"/>
<path d="M735.3 1393.9h6.0v3.5h3.5v6.0h-3.5v3.5h-6.0v-3.5h-3.5v-6.0h3.5z" fill="#d62728"/>
<path d="M852.2 1437.8h6.0v3.5h3.5v6.0h-3.5v3.5h-6.0v-3.5h-3.5v-6.0h3.5z" fill="#d62728"/>
<path d="M962.7 1515.8h6.0v3.5h3.5v6.0h-3.5v3.5h-6.0v-3.5h-3.5v-6.0h3.5z" fill="#d62728"/>
<path d="M197.2 1282.5h6.0v3.5h3.5v6.0h-3.5v3.5h-6.0v-3.5h-3.5v-6.0h3.5z" fill="#9467bd"/>
<path d="M270.3 1276.3h6.0v3.5h3.5v6.0h-3.5v3.5h-6.0v-3.5h-3.5v-6.0h3.5z" fill="#9467bd"/>
<path d="M396.0 1288.6h6.0v3.5h3.5v6.0h-3.5v3.5h-6.0v-3.5h-3.5v-6.0h3.5z" fill="#9467bd"/>
<path d="M514.3 1325.5h6.0v3.5h3.5v6.0h-3.5v3.5h-6.0v-3.5h-3.5v-6.0h3.5z" fill="#9467bd"/>
<path d="M627.5 1341.1h6.0v3.5h3.5v6.0h-3.5v3.5h-6.0v-3.5h-3.5v-6.0h3.5z" fill="#9467bd"/>
<path d="M735.7 1360.4h6.0v3.5h3.5v6.0h-3.5v3.5h-6.0v-3.5h-3.5v-6.0h3.5z" fill="#9467bd"/>
<path d="M850.3 1410.6h6.0v3.5h3.5v6.0h-3.5v3.5h-6.0v-3.5h-3.5v-6.0h3.5z" fill="#9467bd"/>
<path d="M962.1 1483.8h6.0v3.5h3.5v6.0h-3.5v3.5h-6.0v-3.5h-3.5v-6.0h3.5z" fill="#9467bd"/>
<path d="M198.9 1223.5h6.0v3.5h3.5v6.0h-3.5v3.5h-6.0v-3.5h-3.5v-6.0h3.5z" fill="#8c564b"/>
<path d="M269.0 1236.8h6.0v3.5h3.5v6.0h-3.5v3.5h-6.0v-3.5h-3.5v-6.0h3.5z" fill="#8c564b"/>
<path d="M396.0 1246.0h6.0v3.5h3.5v6.0h-3.5v3.5h-6.0v-3.5h-3.5v-6.0h3.5z" fill="#8c564b"/>
<path d="M515.9 1276.0h6.0v3.5h3.5v6.0h-3.5v3.5h-6.0v-3.5h-3.5v-6.0h3.5z" fill="#8c564b"/>
<path d="M628.4 1309.7h6.0v3.5h3.5v6.0h-3.5v3.5h-6.0v-3.5h-3.5v-6.0h3.5z" fill="#8c564b"/>
<path d="M740.2 1336.7h6.0v3.5h3.5v6.0h-3.5v3.5h-6.0v-3.5h-3.5v-6.0h3.5z" fill="#8c564b"/>
<path d="M846.6 1385.3h6.0v3.5h3.5v6.0h-3.5v3.5h-6.0v-3.5h-3.5v-6.0h3.5z" fill="#8c564b"/>
<path d="M968.6 1436.6h6.0v3.5h3.5v6.0h-3.5v3.5h-6.0v-3.5h-3.5v-6.0h3.5z" fill="#8c564b"/>
<path d="M200.4 1204.8h6.0v3.5h3.5v6.0h-3.5v3.5h-6.0v-3.5h-3.5v-6.0h3.5z" fill="#e377c2"/>
<path d="M271.5 1206.4h6.0v3.5h3.5v6.0h-3.5v3.5h-6.0v-3.5h-3.5v-6.0h3.5z" fill="#e377c2"/>
<path d="M402.5 1219.3h6.0v3.5h3.5v6.0h-3.5v3.5h-6.0v-3.5h-3.5v-6.0h3.5z" fill="#e377c2"/>
<path d="M519.9 1268.4h6.0v3.5h3.5v6.0h-3.5v3.5h-6.0v-3.5h-3.5v-6.0h3.5z" fill="#e377c2"/>
<path d="M630.3 1287.2h6.0v3.5h3.5v6.0h-3.5v3.5h-6.0v-3.5h-3.5v-6.0h3.5z" fill="#e377c2"/>
<path d="M738.9 1326.3h6.0v3.5h3.5v6.0h-3.5v3.5h-6.0v-3.5h-3.5v-6.0h3.5z" fill="#e377c2"/>
<path d="M848.1 1338.1h6.0v3.5h3.5v6.0h-3.5v3.5h-6.0v-3.5h-3.5v-6.0h3.5z" fill="#e377c2"/>
<path d="M201.0 1232.1h6.0v3.5h3.5v6.0h-3.5v3.5h-6.0v-3.5h-3.5v-6.0h3.5z" fill="#7f7f7f"/>
<path d="M272.2 1219.3h6.0v3.5h3.5v6.0h-3.5v3.5h-6.0v-3.5h-3.5v-6.0h3.5z" fill="#7f7f7f"/>
<path d="M389.6 1206.7h6.0v3.5h3.5v6.0h-3.5v3.5h-6.0v-3.5h-3.5v-6.0h3.5z" fill="#7f7f7f"/>
<path d="M520.4 1228.9h6.0v3.5h3.5v6.0h-3.5v3.5h-6.0v-3.5h-3.5v-6.0h3.5z" fill="#7f7f7f"/>
<path d="M631.3 1281.1h6.0v3.5h3.5v6.0h-3.5v3.5h-6.0v-3.5h-3.5v-6.0h3.5z" fill="#7f7f7f"/>
<path d="M757.4 1307.2h6.0v3.5h3.5v6.0h-3.5v3.5h-6.0v-3.5h-3.5v-6.0h3.5z" fill="#7f7f7f"/>
<path d="M181.8 1386.5 L193.3 1387.3 L204.8 1388.2 L216.2 1389.1 L227.6 1390.1 L239.1 1391.1 L250.5 1392.2 L262.0 1393.3 L273.4 1394.5 L284.9 1395.7 L296.4 1396.9 L307.8 1398.2 L319.2 1399.5 L330.7 1400.9 L342.1 1402.3 L353.6 1403.7 L365.1 1405.2 L376.5 1406.8 L387.9 1408.4 L399.4 1410.0 L410.9 1411.7 L422.3 1413.4 L433.8 1415.1 L445.2 1416.9 L456.6 1418.8 L468.1 1420.7 L479.5 1422.6 L491.0 1424.6 L502.4 1426.6 L513.9 1428.7 L525.3 1430.8 L536.8 1432.9 L548.2 1435.1 L559.7 1437.3 L571.1 1439.6 L582.6 1441.9 L594.0 1444.3 L605.5 1446.7 L616.9 1449.2 L628.4 1451.6 L639.9 1454.2 L651.3 1456.8 L662.7 1459.4 L674.2 1462.1 L685.6 1464.8 L697.1 1467.5 L708.5 1470.3 L720.0 1473.1 L731.5 1476.0 L742.9 1479.0 L754.4 1481.9 L765.8 1484.9 L777.2 1488.0 L788.7 1491.1 L800.2 1494.2 L811.6 1497.4 L823.1 1500.7 L834.5 1503.9 L846.0 1507.2 L857.4 1510.6 L868.9 1514.0 L880.3 1517.4 L891.8 1520.9 L903.2 1524.5 L914.7 1528.0 L926.1 1531.7 L937.6 1535.3 L949.0 1539.0 L960.5 1542.8 L971.9 1546.6 L983.4 1550.4 L994.8 1554.3 L1006.2 1558.2 L1017.7 1562.2 L1029.2 1566.2" fill="none" stroke="#1f77b4" stroke-width="2.4" stroke-linecap="square" stroke-linejoin="round"/>
<path d="M181.8 1360.5 L193.3 1361.5 L204.8 1362.5 L216.2 1363.5 L227.6 1364.6 L239.1 1365.7 L250.5 1366.9 L262.0 1368.1 L273.4 1369.4 L284.9 1370.7 L296.4 1372.0 L307.8 1373.4 L319.2 1374.9 L330.7 1376.3 L342.1 1377.8 L353.6 1379.4 L365.1 1381.0 L376.5 1382.6 L387.9 1384.3 L399.4 1386.0 L410.9 1387.8 L422.3 1389.6 L433.8 1391.4 L445.2 1393.3 L456.6 1395.3 L468.1 1397.2 L479.5 1399.2 L491.0 1401.3 L502.4 1403.4 L513.9 1405.5 L525.3 1407.7 L536.8 1410.0 L548.2 1412.2 L559.7 1414.5 L571.1 1416.9 L582.6 1419.3 L594.0 1421.7 L605.5 1424.2 L616.9 1426.7 L628.4 1429.3 L639.9 1431.9 L651.3 1434.5 L662.7 1437.2 L674.2 1440.0 L685.6 1442.7 L697.1 1445.5 L708.5 1448.4 L720.0 1451.3 L731.5 1454.2 L742.9 1457.2 L754.4 1460.2 L765.8 1463.3 L777.2 1466.4 L788.7 1469.6 L800.2 1472.8 L811.6 1476.0 L823.1 1479.3 L834.5 1482.6 L846.0 1486.0 L857.4 1489.4 L868.9 1492.8 L880.3 1496.3 L891.8 1499.8 L903.2 1503.4 L914.7 1507.0 L926.1 1510.7 L937.6 1514.4 L949.0 1518.1 L960.5 1521.9 L971.9 1525.7 L983.4 1529.6 L994.8 1533.5 L1006.2 1537.4 L1017.7 1541.4 L1029.2 1545.4" fill="none" stroke="#ff7f0e" stroke-width="2.4" stroke-linecap="square" stroke-linejoin="round"/>
<path d="M181.8 1333.4 L193.3 1334.4 L204.8 1335.5 L216.2 1336.6 L227.6 1337.7 L239.1 1338.9 L250.5 1340.1 L262.0 1341.3 L273.4 1342.6 L284.9 1344.0 L296.4 1345.4 L307.8 1346.8 L319.2 1348.3 L330.7 1349.8 L342.1 1351.3 L353.6 1352.9 L365.1 1354.6 L376.5 1356.3 L387.9 1358.0 L399.4 1359.8 L410.9 1361.6 L422.3 1363.5 L433.8 1365.4 L445.2 1367.3 L456.6 1369.3 L468.1 1371.3 L479.5 1373.4 L491.0 1375.5 L502.4 1377.7 L513.9 1379.9 L525.3 1382.1 L536.8 1384.4 L548.2 1386.8 L559.7 1389.2 L571.1 1391.6 L582.6 1394.0 L594.0 1396.6 L605.5 1399.1 L616.9 1401.7 L628.4 1404.3 L639.9 1407.0 L651.3 1409.7 L662.7 1412.5 L674.2 1415.3 L685.6 1418.2 L697.1 1421.1 L708.5 1424.0 L720.0 1427.0 L731.5 1430.0 L742.9 1433.1 L754.4 1436.2 L765.8 1439.4 L777.2 1442.6 L788.7 1445.8 L800.2 1449.1 L811.6 1452.4 L823.1 1455.8 L834.5 1459.2 L846.0 1462.7 L857.4 1466.2 L868.9 1469.7 L880.3 1473.3 L891.8 1476.9 L903.2 1480.6 L914.7 1484.3 L926.1 1488.1 L937.6 1491.9 L949.0 1495.8 L960.5 1499.6 L971.9 1503.6 L983.4 1507.6 L994.8 1511.6 L1006.2 1515.6 L1017.7 1519.7 L1029.2 1523.9" fill="none" stroke="#2ca02c" stroke-width="2.4" stroke-linecap="square" stroke-linejoin="round"/>
<path d="M181.8 1304.8 L193.3 1305.9 L204.8 1307.0 L216.2 1308.1 L227.6 1309.3 L239.1 1310.6 L250.5 1311.8 L262.0 1313.2 L273.4 1314.5 L284.9 1315.9 L296.4 1317.4 L307.8 1318.9 L319.2 1320.4 L330.7 1322.0 L342.1 1323.6 L353.6 1325.3 L365.1 1327.0 L376.5 1328.7 L387.9 1330.5 L399.4 1332.4 L410.9 1334.3 L422.3 1336.2 L433.8 1338.2 L445.2 1340.2 L456.6 1342.2 L468.1 1344.3 L479.5 1346.5 L491.0 1348.7 L502.4 1350.9 L513.9 1353.2 L525.3 1355.5 L536.8 1357.8 L548.2 1360.2 L559.7 1362.7 L571.1 1365.2 L582.6 1367.7 L594.0 1370.3 L605.5 1372.9 L616.9 1375.5 L628.4 1378.2 L639.9 1381.0 L651.3 1383.8 L662.7 1386.6 L674.2 1389.5 L685.6 1392.4 L697.1 1395.4 L708.5 1398.4 L720.0 1401.4 L731.5 1404.5 L742.9 1407.6 L754.4 1410.8 L765.8 1414.0 L777.2 1417.3 L788.7 1420.6 L800.2 1424.0 L811.6 1427.4 L823.1 1430.8 L834.5 1434.3 L846.0 1437.8 L857.4 1441.4 L868.9 1445.0 L880.3 1448.6 L891.8 1452.3 L903.2 1456.1 L914.7 1459.8 L926.1 1463.7 L937.6 1467.5 L949.0 1471.5 L960.5 1475.4 L971.9 1479.4 L983.4 1483.4 L994.8 1487.5 L1006.2 1491.7 L1017.7 1495.8 L1029.2 1500.0" fill="none" stroke="#d62728" stroke-width="2.4" stroke-linecap="square" stroke-linejoin="round"/>
<path d="M181.8 1274.3 L193.3 1275.5 L204.8 1276.7 L216.2 1277.9 L227.6 1279.2 L239.1 1280.5 L250.5 1281.9 L262.0 1283.3 L273.4 1284.8 L284.9 1286.3 L296.4 1287.8 L307.8 1289.4 L319.2 1291.1 L330.7 1292.7 L342.1 1294.4 L353.6 1296.2 L365.1 1298.0 L376.5 1299.8 L387.9 1301.7 L399.4 1303.7 L410.9 1305.6 L422.3 1307.6 L433.8 1309.7 L445.2 1311.8 L456.6 1313.9 L468.1 1316.1 L479.5 1318.3 L491.0 1320.6 L502.4 1322.9 L513.9 1325.3 L525.3 1327.7 L536.8 1330.1 L548.2 1332.6 L559.7 1335.1 L571.1 1337.7 L582.6 1340.3 L594.0 1342.9 L605.5 1345.6 L616.9 1348.3 L628.4 1351.1 L639.9 1353.9 L651.3 1356.8 L662.7 1359.7 L674.2 1362.6 L685.6 1365.6 L697.1 1368.7 L708.5 1371.7 L720.0 1374.9 L731.5 1378.0 L742.9 1381.2 L754.4 1384.5 L765.8 1387.8 L777.2 1391.1 L788.7 1394.5 L800.2 1397.9 L811.6 1401.3 L823.1 1404.8 L834.5 1408.4 L846.0 1412.0 L857.4 1415.6 L868.9 1419.3 L880.3 1423.0 L891.8 1426.7 L903.2 1430.5 L914.7 1434.4 L926.1 1438.2 L937.6 1442.2 L949.0 1446.1 L960.5 1450.1 L971.9 1454.2 L983.4 1458.3 L994.8 1462.4 L1006.2 1466.6 L1017.7 1470.8 L1029.2 1475.1" fill="none" stroke="#9467bd" stroke-width="2.4" stroke-linecap="square" stroke-linejoin="round"/>
<path d="M181.8 1242.4 L193.3 1243.6 L204.8 1244.9 L216.2 1246.2 L227.6 1247.5 L239.1 1248.9 L250.5 1250.4 L262.0 1251.8 L273.4 1253.4 L284.9 1254.9 L296.4 1256.5 L307.8 1258.2 L319.2 1259.9 L330.7 1261.6 L342.1 1263.4 L353.6 1265.2 L365.1 1267.1 L376.5 1269.0 L387.9 1270.9 L399.4 1272.9 L410.9 1275.0 L422.3 1277.0 L433.8 1279.2 L445.2 1281.3 L456.6 1283.5 L468.1 1285.8 L479.5 1288.1 L491.0 1290.4 L502.4 1292.8 L513.9 1295.2 L525.3 1297.7 L536.8 1300.2 L548.2 1302.7 L559.7 1305.3 L571.1 1307.9 L582.6 1310.6 L594.0 1313.3 L605.5 1316.1 L616.9 1318.9 L628.4 1321.8 L639.9 1324.7 L651.3 1327.6 L662.7 1330.6 L674.2 1333.6 L685.6 1336.7 L697.1 1339.8 L708.5 1342.9 L720.0 1346.1 L731.5 1349.3 L742.9 1352.6 L754.4 1355.9 L765.8 1359.3 L777.2 1362.7 L788.7 1366.1 L800.2 1369.6 L811.6 1373.2 L823.1 1376.7 L834.5 1380.4 L846.0 1384.0 L857.4 1387.7 L868.9 1391.5 L880.3 1395.3 L891.8 1399.1 L903.2 1403.0 L914.7 1406.9 L926.1 1410.9 L937.6 1414.9 L949.0 1418.9 L960.5 1423.0 L971.9 1427.1 L983.4 1431.3 L994.8 1435.5 L1006.2 1439.8 L1017.7 1444.1 L1029.2 1448.4" fill="none" stroke="#8c564b" stroke-width="2.4" stroke-linecap="square" stroke-linejoin="round"/>
<path d="M181.8 1208.9 L193.3 1210.2 L204.8 1211.6 L216.2 1212.9 L227.6 1214.4 L239.1 1215.8 L250.5 1217.3 L262.0 1218.9 L273.4 1220.5 L284.9 1222.1 L296.4 1223.8 L307.8 1225.5 L319.2 1227.3 L330.7 1229.1 L342.1 1230.9 L353.6 1232.8 L365.1 1234.8 L376.5 1236.8 L387.9 1238.8 L399.4 1240.8 L410.9 1243.0 L422.3 1245.1 L433.8 1247.3 L445.2 1249.5 L456.6 1251.8 L468.1 1254.1 L479.5 1256.5 L491.0 1258.9 L502.4 1261.4 L513.9 1263.8 L525.3 1266.4 L536.8 1269.0 L548.2 1271.6 L559.7 1274.2 L571.1 1277.0 L582.6 1279.7 L594.0 1282.5 L605.5 1285.3 L616.9 1288.2 L628.4 1291.1 L639.9 1294.1 L651.3 1297.1 L662.7 1300.1 L674.2 1303.2 L685.6 1306.4 L697.1 1309.6 L708.5 1312.8 L720.0 1316.0 L731.5 1319.3 L742.9 1322.7 L754.4 1326.1 L765.8 1329.5 L777.2 1333.0 L788.7 1336.5 L800.2 1340.1 L811.6 1343.7 L823.1 1347.3 L834.5 1351.0 L846.0 1354.8 L857.4 1358.5 L868.9 1362.4 L880.3 1366.2 L891.8 1370.1 L903.2 1374.1 L914.7 1378.1 L926.1 1382.1 L937.6 1386.2 L949.0 1390.3 L960.5 1394.5 L971.9 1398.7 L983.4 1402.9 L994.8 1407.2 L1006.2 1411.5 L1017.7 1415.9 L1029.2 1420.3" fill="none" stroke="#e377c2" stroke-width="2.4" stroke-linecap="square" stroke-linejoin="round"/>
<path d="M181.8 1173.7 L193.3 1175.1 L204.8 1176.6 L216.2 1178.1 L227.6 1179.6 L239.1 1181.2 L250.5 1182.8 L262.0 1184.5 L273.4 1186.2 L284.9 1188.0 L296.4 1189.8 L307.8 1191.6 L319.2 1193.5 L330.7 1195.4 L342.1 1197.4 L353.6 1199.4 L365.1 1201.4 L376.5 1203.5 L387.9 1205.6 L399.4 1207.8 L410.9 1210.0 L422.3 1212.2 L433.8 1214.5 L445.2 1216.8 L456.6 1219.2 L468.1 1221.6 L479.5 1224.1 L491.0 1226.6 L502.4 1229.1 L513.9 1231.7 L525.3 1234.3 L536.8 1237.0 L548.2 1239.7 L559.7 1242.4 L571.1 1245.2 L582.6 1248.0 L594.0 1250.9 L605.5 1253.8 L616.9 1256.8 L628.4 1259.7 L639.9 1262.8 L651.3 1265.9 L662.7 1269.0 L674.2 1272.1 L685.6 1275.3 L697.1 1278.6 L708.5 1281.8 L720.0 1285.2 L731.5 1288.5 L742.9 1291.9 L754.4 1295.4 L765.8 1298.9 L777.2 1302.4 L788.7 1306.0 L800.2 1309.6 L811.6 1313.2 L823.1 1316.9 L834.5 1320.7 L846.0 1324.5 L857.4 1328.3 L868.9 1332.1 L880.3 1336.0 L891.8 1340.0 L903.2 1344.0 L914.7 1348.0 L926.1 1352.1 L937.6 1356.2 L949.0 1360.3 L960.5 1364.5 L971.9 1368.8 L983.4 1373.0 L994.8 1377.3 L1006.2 1381.7 L1017.7 1386.1 L1029.2 1390.5" fill="none" stroke="#7f7f7f" stroke-width="2.4" stroke-linecap="square" stroke-linejoin="round"/>
<path d="M124.6 1700.1 v9.7" stroke="#000" stroke-width="2.2"/>
<text x="124.6" y="1745.7" font-size="36.1" text-anchor="middle">0.0</text>
<path d="M239.1 1700.1 v9.7" stroke="#000" stroke-width="2.2"/>
<text x="239.1" y="1745.7" font-size="36.1" text-anchor="middle">0.1</text>
<path d="M353.6 1700.1 v9.7" stroke="#000" stroke-width="2.2"/>
<text x="353.6" y="1745.7" font-size="36.1" text-anchor="middle">0.2</text>
<path d="M468.1 1700.1 v9.7" stroke="#000" stroke-width="2.2"/>
<text x="468.1" y="1745.7" font-size="36.1" text-anchor="middle">0.3</text>
<path d="M582.6 1700.1 v9.7" stroke="#000" stroke-width="2.2"/>
<text x="582.6" y="1745.7" font-size="36.1" text-anchor="middle">0.4</text>
<path d="M697.1 1700.1 v9.7" stroke="#000" stroke-width="2.2"/>
<text x="697.1" y="1745.7" font-size="36.1" text-anchor="middle">0.5</text>
<path d="M811.6 1700.1 v9.7" stroke="#000" stroke-width="2.2"/>
<text x="811.6" y="1745.7" font-size="36.1" text-anchor="middle">0.6</text>
<path d="M926.1 1700.1 v9.7" stroke="#000" stroke-width="2.2"/>
<text x="926.1" y="1745.7" font-size="36.1" text-anchor="middle">0.7</text>
<path d="M1040.6 1700.1 v9.7" stroke="#000" stroke-width="2.2"/>
<text x="1040.6" y="1745.7" font-size="36.1" text-anchor="middle">0.8</text>
<path d="M124.6 1700.1 h-9.7" stroke="#000" stroke-width="2.2"/>
<text x="106.0" y="1713.9" font-size="36.1" text-anchor="end">0.8</text>
<path d="M124.6 1547.1 h-9.7" stroke="#000" stroke-width="2.2"/>
<text x="106.0" y="1560.9" font-size="36.1" text-anchor="end">1.0</text>
<path d="M124.6 1394.2 h-9.7" stroke="#000" stroke-width="2.2"/>
<text x="106.0" y="1408.0" font-size="36.1" text-anchor="end">1.2</text>
<path d="M124.6 1241.2 h-9.7" stroke="#000" stroke-width="2.2"/>
<text x="106.0" y="1255.0" font-size="36.1" text-anchor="end">1.4</text>
<path d="M124.6 1088.3 h-9.7" stroke="#000" stroke-width="2.2"/>
<text x="106.0" y="1102.1" font-size="36.1" text-anchor="end">1.6</text>
<path d="M124.6 935.3 h-9.7" stroke="#000" stroke-width="2.2"/>
<text x="106.0" y="949.1" font-size="36.1" text-anchor="end">1.8</text>
<rect x="124.6" y="935.3" width="916.0" height="764.8" fill="none" stroke="#000" stroke-width="2.2"/>
<text x="582.6" y="1792.1" font-size="36.1" text-anchor="middle" style="font-kerning:none"><tspan font-style="italic">E</tspan>(<tspan font-style="italic">B</tspan><tspan dx="6.8">−</tspan><tspan font-style="italic" dx="6.8">V</tspan>)<tspan font-style="italic" font-size="24.8" dy="5.9">Planck<tspan font-style="normal">2014</tspan><tspan dx="5.5">−</tspan><tspan dx="5">Tau</tspan></tspan><tspan dy="-5.9" dx="8.7">(mag)</tspan></text>
<text transform="translate(30.6 1318.4) rotate(-90)" font-size="36.1" text-anchor="middle" style="font-kerning:none"><tspan font-style="italic">R</tspan><tspan font-style="italic" font-size="24.8" dy="5.9">BP<tspan dx="5.5">−</tspan><tspan dx="5">RP</tspan></tspan></text>
<path d="M504.4 964.4h6.0v3.5h3.5v6.0h-3.5v3.5h-6.0v-3.5h-3.5v-6.0h3.5z" fill="#1f77b4"/>
<text x="554.4" y="977.0" font-size="25.6">4000~4500K</text>
<path d="M504.4 1002.2h6.0v3.5h3.5v6.0h-3.5v3.5h-6.0v-3.5h-3.5v-6.0h3.5z" fill="#ff7f0e"/>
<text x="554.4" y="1014.8" font-size="25.6">4500~5000K</text>
<path d="M504.4 1040.0h6.0v3.5h3.5v6.0h-3.5v3.5h-6.0v-3.5h-3.5v-6.0h3.5z" fill="#2ca02c"/>
<text x="554.4" y="1052.6" font-size="25.6">5000~5500K</text>
<path d="M504.4 1077.8h6.0v3.5h3.5v6.0h-3.5v3.5h-6.0v-3.5h-3.5v-6.0h3.5z" fill="#d62728"/>
<text x="554.4" y="1090.4" font-size="25.6">5500~6000K</text>
<path d="M797.6 964.4h6.0v3.5h3.5v6.0h-3.5v3.5h-6.0v-3.5h-3.5v-6.0h3.5z" fill="#9467bd"/>
<text x="847.6" y="977.0" font-size="25.6">6000~6500K</text>
<path d="M797.6 1002.2h6.0v3.5h3.5v6.0h-3.5v3.5h-6.0v-3.5h-3.5v-6.0h3.5z" fill="#8c564b"/>
<text x="847.6" y="1014.8" font-size="25.6">6500~7000K</text>
<path d="M797.6 1040.0h6.0v3.5h3.5v6.0h-3.5v3.5h-6.0v-3.5h-3.5v-6.0h3.5z" fill="#e377c2"/>
<text x="847.6" y="1052.6" font-size="25.6">7000~7500K</text>
<path d="M797.6 1077.8h6.0v3.5h3.5v6.0h-3.5v3.5h-6.0v-3.5h-3.5v-6.0h3.5z" fill="#7f7f7f"/>
<text x="847.6" y="1090.4" font-size="25.6">7500~8000K</text></g>
<g><path d="M1299.5 1390.3h6.0v3.5h3.5v6.0h-3.5v3.5h-6.0v-3.5h-3.5v-6.0h3.5z" fill="#1f77b4"/>
<path d="M1370.0 1389.3h6.0v3.5h3.5v6.0h-3.5v3.5h-6.0v-3.5h-3.5v-6.0h3.5z" fill="#1f77b4"/>
<path d="M1491.3 1388.4h6.0v3.5h3.5v6.0h-3.5v3.5h-6.0v-3.5h-3.5v-6.0h3.5z" fill="#1f77b4"/>
<path d="M1615.1 1428.7h6.0v3.5h3.5v6.0h-3.5v3.5h-6.0v-3.5h-3.5v-6.0h3.5z" fill="#1f77b4"/>
<path d="M1722.7 1442.1h6.0v3.5h3.5v6.0h-3.5v3.5h-6.0v-3.5h-3.5v-6.0h3.5z" fill="#1f77b4"/>
<path d="M1845.2 1444.0h6.0v3.5h3.5v6.0h-3.5v3.5h-6.0v-3.5h-3.5v-6.0h3.5z" fill="#1f77b4"/>
<path d="M1947.2 1487.6h6.0v3.5h3.5v6.0h-3.5v3.5h-6.0v-3.5h-3.5v-6.0h3.5z" fill="#1f77b4"/>
<path d="M2069.2 1522.5h6.0v3.5h3.5v6.0h-3.5v3.5h-6.0v-3.5h-3.5v-6.0h3.5z" fill="#1f77b4"/>
<path d="M1298.9 1411.0h6.0v3.5h3.5v6.0h-3.5v3.5h-6.0v-3.5h-3.5v-6.0h3.5z" fill="#ff7f0e"/>
<path d="M1368.8 1390.6h6.0v3.5h3.5v6.0h-3.5v3.5h-6.0v-3.5h-3.5v-6.0h3.5z" fill="#ff7f0e"/>
<path d="M1494.5 1386.8h6.0v3.5h3.5v6.0h-3.5v3.5h-6.0v-3.5h-3.5v-6.0h3.5z" fill="#ff7f0e"/>
<path d="M1617.0 1422.1h6.0v3.5h3.5v6.0h-3.5v3.5h-6.0v-3.5h-3.5v-6.0h3.5z" fill="#ff7f0e"/>
<path d="M1726.1 1435.0h6.0v3.5h3.5v6.0h-3.5v3.5h-6.0v-3.5h-3.5v-6.0h3.5z" fill="#ff7f0e"/>
<path d="M1835.7 1447.2h6.0v3.5h3.5v6.0h-3.5v3.5h-6.0v-3.5h-3.5v-6.0h3.5z" fill="#ff7f0e"/>
<path d="M1946.4 1483.8h6.0v3.5h3.5v6.0h-3.5v3.5h-6.0v-3.5h-3.5v-6.0h3.5z" fill="#ff7f0e"/>
<path d="M2062.8 1537.0h6.0v3.5h3.5v6.0h-3.5v3.5h-6.0v-3.5h-3.5v-6.0h3.5z" fill="#ff7f0e"/>
<path d="M1295.7 1352.9h6.0v3.5h3.5v6.0h-3.5v3.5h-6.0v-3.5h-3.5v-6.0h3.5z" fill="#2ca02c"/>
<path d="M1365.2 1347.4h6.0v3.5h3.5v6.0h-3.5v3.5h-6.0v-3.5h-3.5v-6.0h3.5z" fill="#2ca02c"/>
<path d="M1494.9 1366.8h6.0v3.5h3.5v6.0h-3.5v3.5h-6.0v-3.5h-3.5v-6.0h3.5z" fill="#2ca02c"/>
<path d="M1614.5 1408.7h6.0v3.5h3.5v6.0h-3.5v3.5h-6.0v-3.5h-3.5v-6.0h3.5z" fill="#2ca02c"/>
<path d="M1724.4 1416.0h6.0v3.5h3.5v6.0h-3.5v3.5h-6.0v-3.5h-3.5v-6.0h3.5z" fill="#2ca02c"/>
<path d="M1835.3 1428.4h6.0v3.5h3.5v6.0h-3.5v3.5h-6.0v-3.5h-3.5v-6.0h3.5z" fill="#2ca02c"/>
<path d="M1949.0 1466.8h6.0v3.5h3.5v6.0h-3.5v3.5h-6.0v-3.5h-3.5v-6.0h3.5z" fill="#2ca02c"/>
<path d="M2066.4 1483.0h6.0v3.5h3.5v6.0h-3.5v3.5h-6.0v-3.5h-3.5v-6.0h3.5z" fill="#2ca02c"/>
<path d="M1295.1 1364.4h6.0v3.5h3.5v6.0h-3.5v3.5h-6.0v-3.5h-3.5v-6.0h3.5z" fill="#d62728"/>
<path d="M1365.6 1330.6h6.0v3.5h3.5v6.0h-3.5v3.5h-6.0v-3.5h-3.5v-6.0h3.5z" fill="#d62728"/>
<path d="M1494.5 1351.8h6.0v3.5h3.5v6.0h-3.5v3.5h-6.0v-3.5h-3.5v-6.0h3.5z" fill="#d62728"/>
<path d="M1611.5 1384.5h6.0v3.5h3.5v6.0h-3.5v3.5h-6.0v-3.5h-3.5v-6.0h3.5z" fill="#d62728"/>
<path d="M1723.7 1388.2h6.0v3.5h3.5v6.0h-3.5v3.5h-6.0v-3.5h-3.5v-6.0h3.5z" fill="#d62728"/>
<path d="M1833.8 1402.5h6.0v3.5h3.5v6.0h-3.5v3.5h-6.0v-3.5h-3.5v-6.0h3.5z" fill="#d62728"/>
<path d="M1944.5 1432.1h6.0v3.5h3.5v6.0h-3.5v3.5h-6.0v-3.5h-3.5v-6.0h3.5z" fill="#d62728"/>
<path d="M2074.0 1482.7h6.0v3.5h3.5v6.0h-3.5v3.5h-6.0v-3.5h-3.5v-6.0h3.5z" fill="#d62728"/>
<path d="M1296.6 1315.4h6.0v3.5h3.5v6.0h-3.5v3.5h-6.0v-3.5h-3.5v-6.0h3.5z" fill="#9467bd"/>
<path d="M1368.8 1299.2h6.0v3.5h3.5v6.0h-3.5v3.5h-6.0v-3.5h-3.5v-6.0h3.5z" fill="#9467bd"/>
<path d="M1494.0 1305.9h6.0v3.5h3.5v6.0h-3.5v3.5h-6.0v-3.5h-3.5v-6.0h3.5z" fill="#9467bd"/>
<path d="M1615.3 1345.9h6.0v3.5h3.5v6.0h-3.5v3.5h-6.0v-3.5h-3.5v-6.0h3.5z" fill="#9467bd"/>
<path d="M1728.0 1350.8h6.0v3.5h3.5v6.0h-3.5v3.5h-6.0v-3.5h-3.5v-6.0h3.5z" fill="#9467bd"/>
<path d="M1834.5 1363.6h6.0v3.5h3.5v6.0h-3.5v3.5h-6.0v-3.5h-3.5v-6.0h3.5z" fill="#9467bd"/>
<path d="M1943.3 1400.6h6.0v3.5h3.5v6.0h-3.5v3.5h-6.0v-3.5h-3.5v-6.0h3.5z" fill="#9467bd"/>
<path d="M2067.3 1430.9h6.0v3.5h3.5v6.0h-3.5v3.5h-6.0v-3.5h-3.5v-6.0h3.5z" fill="#9467bd"/>
<path d="M1298.9 1263.0h6.0v3.5h3.5v6.0h-3.5v3.5h-6.0v-3.5h-3.5v-6.0h3.5z" fill="#8c564b"/>
<path d="M1367.5 1260.4h6.0v3.5h3.5v6.0h-3.5v3.5h-6.0v-3.5h-3.5v-6.0h3.5z" fill="#8c564b"/>
<path d="M1497.4 1262.1h6.0v3.5h3.5v6.0h-3.5v3.5h-6.0v-3.5h-3.5v-6.0h3.5z" fill="#8c564b"/>
<path d="M1619.7 1302.1h6.0v3.5h3.5v6.0h-3.5v3.5h-6.0v-3.5h-3.5v-6.0h3.5z" fill="#8c564b"/>
<path d="M1727.5 1317.3h6.0v3.5h3.5v6.0h-3.5v3.5h-6.0v-3.5h-3.5v-6.0h3.5z" fill="#8c564b"/>
<path d="M1834.5 1340.2h6.0v3.5h3.5v6.0h-3.5v3.5h-6.0v-3.5h-3.5v-6.0h3.5z" fill="#8c564b"/>
<path d="M1938.5 1384.5h6.0v3.5h3.5v6.0h-3.5v3.5h-6.0v-3.5h-3.5v-6.0h3.5z" fill="#8c564b"/>
<path d="M2064.3 1382.3h6.0v3.5h3.5v6.0h-3.5v3.5h-6.0v-3.5h-3.5v-6.0h3.5z" fill="#8c564b"/>
<path d="M1299.3 1238.3h6.0v3.5h3.5v6.0h-3.5v3.5h-6.0v-3.5h-3.5v-6.0h3.5z" fill="#e377c2"/>
<path d="M1370.0 1233.5h6.0v3.5h3.5v6.0h-3.5v3.5h-6.0v-3.5h-3.5v-6.0h3.5z" fill="#e377c2"/>
<path d="M1498.3 1234.8h6.0v3.5h3.5v6.0h-3.5v3.5h-6.0v-3.5h-3.5v-6.0h3.5z" fill="#e377c2"/>
<path d="M1615.9 1284.2h6.0v3.5h3.5v6.0h-3.5v3.5h-6.0v-3.5h-3.5v-6.0h3.5z" fill="#e377c2"/>
<path d="M1730.0 1292.5h6.0v3.5h3.5v6.0h-3.5v3.5h-6.0v-3.5h-3.5v-6.0h3.5z" fill="#e377c2"/>
<path d="M1833.8 1318.3h6.0v3.5h3.5v6.0h-3.5v3.5h-6.0v-3.5h-3.5v-6.0h3.5z" fill="#e377c2"/>
<path d="M1932.6 1344.3h6.0v3.5h3.5v6.0h-3.5v3.5h-6.0v-3.5h-3.5v-6.0h3.5z" fill="#e377c2"/>
<path d="M1300.4 1272.9h6.0v3.5h3.5v6.0h-3.5v3.5h-6.0v-3.5h-3.5v-6.0h3.5z" fill="#7f7f7f"/>
<path d="M1369.4 1249.1h6.0v3.5h3.5v6.0h-3.5v3.5h-6.0v-3.5h-3.5v-6.0h3.5z" fill="#7f7f7f"/>
<path d="M1488.8 1245.3h6.0v3.5h3.5v6.0h-3.5v3.5h-6.0v-3.5h-3.5v-6.0h3.5z" fill="#7f7f7f"/>
<path d="M1617.6 1244.5h6.0v3.5h3.5v6.0h-3.5v3.5h-6.0v-3.5h-3.5v-6.0h3.5z" fill="#7f7f7f"/>
<path d="M1724.2 1296.4h6.0v3.5h3.5v6.0h-3.5v3.5h-6.0v-3.5h-3.5v-6.0h3.5z" fill="#7f7f7f"/>
<path d="M1820.2 1275.8h6.0v3.5h3.5v6.0h-3.5v3.5h-6.0v-3.5h-3.5v-6.0h3.5z" fill="#7f7f7f"/>
<path d="M1281.1 1398.6 L1292.5 1399.4 L1304.0 1400.2 L1315.4 1401.1 L1326.9 1402.0 L1338.3 1402.9 L1349.8 1403.9 L1361.3 1404.9 L1372.7 1406.0 L1384.2 1407.0 L1395.6 1408.2 L1407.1 1409.3 L1418.5 1410.5 L1430.0 1411.7 L1441.4 1413.0 L1452.9 1414.3 L1464.4 1415.6 L1475.8 1416.9 L1487.3 1418.3 L1498.7 1419.8 L1510.2 1421.2 L1521.6 1422.7 L1533.1 1424.3 L1544.5 1425.8 L1556.0 1427.4 L1567.4 1429.1 L1578.9 1430.8 L1590.4 1432.5 L1601.8 1434.2 L1613.3 1436.0 L1624.7 1437.8 L1636.2 1439.7 L1647.6 1441.6 L1659.1 1443.5 L1670.5 1445.5 L1682.0 1447.5 L1693.5 1449.5 L1704.9 1451.5 L1716.4 1453.6 L1727.8 1455.8 L1739.3 1458.0 L1750.7 1460.2 L1762.2 1462.4 L1773.6 1464.7 L1785.1 1467.0 L1796.5 1469.3 L1808.0 1471.7 L1819.5 1474.1 L1830.9 1476.6 L1842.4 1479.1 L1853.8 1481.6 L1865.3 1484.2 L1876.7 1486.7 L1888.2 1489.4 L1899.6 1492.0 L1911.1 1494.7 L1922.6 1497.5 L1934.0 1500.2 L1945.5 1503.0 L1956.9 1505.9 L1968.4 1508.8 L1979.8 1511.7 L1991.3 1514.6 L2002.7 1517.6 L2014.2 1520.6 L2025.7 1523.7 L2037.1 1526.8 L2048.6 1529.9 L2060.0 1533.0 L2071.5 1536.2 L2082.9 1539.5 L2094.4 1542.7 L2105.8 1546.0 L2117.3 1549.3 L2128.7 1552.7" fill="none" stroke="#1f77b4" stroke-width="2.4" stroke-linecap="square" stroke-linejoin="round"/>
<path d="M1281.1 1376.5 L1292.5 1377.3 L1304.0 1378.1 L1315.4 1379.0 L1326.9 1379.9 L1338.3 1380.9 L1349.8 1381.9 L1361.3 1382.9 L1372.7 1383.9 L1384.2 1385.0 L1395.6 1386.1 L1407.1 1387.3 L1418.5 1388.5 L1430.0 1389.7 L1441.4 1391.0 L1452.9 1392.3 L1464.4 1393.6 L1475.8 1395.0 L1487.3 1396.4 L1498.7 1397.8 L1510.2 1399.3 L1521.6 1400.8 L1533.1 1402.3 L1544.5 1403.9 L1556.0 1405.5 L1567.4 1407.2 L1578.9 1408.9 L1590.4 1410.6 L1601.8 1412.3 L1613.3 1414.1 L1624.7 1416.0 L1636.2 1417.8 L1647.6 1419.7 L1659.1 1421.7 L1670.5 1423.6 L1682.0 1425.6 L1693.5 1427.7 L1704.9 1429.7 L1716.4 1431.9 L1727.8 1434.0 L1739.3 1436.2 L1750.7 1438.4 L1762.2 1440.7 L1773.6 1442.9 L1785.1 1445.3 L1796.5 1447.6 L1808.0 1450.0 L1819.5 1452.5 L1830.9 1454.9 L1842.4 1457.4 L1853.8 1460.0 L1865.3 1462.5 L1876.7 1465.1 L1888.2 1467.8 L1899.6 1470.5 L1911.1 1473.2 L1922.6 1475.9 L1934.0 1478.7 L1945.5 1481.5 L1956.9 1484.4 L1968.4 1487.3 L1979.8 1490.2 L1991.3 1493.1 L2002.7 1496.1 L2014.2 1499.2 L2025.7 1502.2 L2037.1 1505.3 L2048.6 1508.5 L2060.0 1511.7 L2071.5 1514.9 L2082.9 1518.1 L2094.4 1521.4 L2105.8 1524.7 L2117.3 1528.0 L2128.7 1531.4" fill="none" stroke="#ff7f0e" stroke-width="2.4" stroke-linecap="square" stroke-linejoin="round"/>
<path d="M1281.1 1352.6 L1292.5 1353.4 L1304.0 1354.3 L1315.4 1355.2 L1326.9 1356.1 L1338.3 1357.1 L1349.8 1358.1 L1361.3 1359.1 L1372.7 1360.2 L1384.2 1361.3 L1395.6 1362.4 L1407.1 1363.6 L1418.5 1364.8 L1430.0 1366.0 L1441.4 1367.3 L1452.9 1368.6 L1464.4 1370.0 L1475.8 1371.3 L1487.3 1372.8 L1498.7 1374.2 L1510.2 1375.7 L1521.6 1377.2 L1533.1 1378.8 L1544.5 1380.4 L1556.0 1382.0 L1567.4 1383.7 L1578.9 1385.4 L1590.4 1387.1 L1601.8 1388.9 L1613.3 1390.7 L1624.7 1392.5 L1636.2 1394.4 L1647.6 1396.3 L1659.1 1398.3 L1670.5 1400.2 L1682.0 1402.3 L1693.5 1404.3 L1704.9 1406.4 L1716.4 1408.5 L1727.8 1410.7 L1739.3 1412.9 L1750.7 1415.1 L1762.2 1417.4 L1773.6 1419.7 L1785.1 1422.0 L1796.5 1424.4 L1808.0 1426.8 L1819.5 1429.2 L1830.9 1431.7 L1842.4 1434.2 L1853.8 1436.7 L1865.3 1439.3 L1876.7 1441.9 L1888.2 1444.6 L1899.6 1447.3 L1911.1 1450.0 L1922.6 1452.7 L1934.0 1455.5 L1945.5 1458.4 L1956.9 1461.2 L1968.4 1464.1 L1979.8 1467.0 L1991.3 1470.0 L2002.7 1473.0 L2014.2 1476.1 L2025.7 1479.1 L2037.1 1482.2 L2048.6 1485.4 L2060.0 1488.6 L2071.5 1491.8 L2082.9 1495.0 L2094.4 1498.3 L2105.8 1501.6 L2117.3 1505.0 L2128.7 1508.4" fill="none" stroke="#2ca02c" stroke-width="2.4" stroke-linecap="square" stroke-linejoin="round"/>
<path d="M1281.1 1327.7 L1292.5 1328.6 L1304.0 1329.4 L1315.4 1330.3 L1326.9 1331.3 L1338.3 1332.2 L1349.8 1333.2 L1361.3 1334.3 L1372.7 1335.4 L1384.2 1336.5 L1395.6 1337.6 L1407.1 1338.8 L1418.5 1340.0 L1430.0 1341.3 L1441.4 1342.6 L1452.9 1343.9 L1464.4 1345.2 L1475.8 1346.6 L1487.3 1348.0 L1498.7 1349.5 L1510.2 1351.0 L1521.6 1352.5 L1533.1 1354.1 L1544.5 1355.7 L1556.0 1357.3 L1567.4 1359.0 L1578.9 1360.7 L1590.4 1362.4 L1601.8 1364.2 L1613.3 1366.0 L1624.7 1367.9 L1636.2 1369.8 L1647.6 1371.7 L1659.1 1373.6 L1670.5 1375.6 L1682.0 1377.6 L1693.5 1379.7 L1704.9 1381.8 L1716.4 1383.9 L1727.8 1386.1 L1739.3 1388.3 L1750.7 1390.5 L1762.2 1392.7 L1773.6 1395.0 L1785.1 1397.4 L1796.5 1399.7 L1808.0 1402.2 L1819.5 1404.6 L1830.9 1407.1 L1842.4 1409.6 L1853.8 1412.1 L1865.3 1414.7 L1876.7 1417.3 L1888.2 1420.0 L1899.6 1422.6 L1911.1 1425.4 L1922.6 1428.1 L1934.0 1430.9 L1945.5 1433.7 L1956.9 1436.6 L1968.4 1439.5 L1979.8 1442.4 L1991.3 1445.4 L2002.7 1448.4 L2014.2 1451.4 L2025.7 1454.5 L2037.1 1457.6 L2048.6 1460.7 L2060.0 1463.9 L2071.5 1467.1 L2082.9 1470.3 L2094.4 1473.6 L2105.8 1476.9 L2117.3 1480.3 L2128.7 1483.7" fill="none" stroke="#d62728" stroke-width="2.4" stroke-linecap="square" stroke-linejoin="round"/>
<path d="M1281.1 1300.5 L1292.5 1301.4 L1304.0 1302.3 L1315.4 1303.2 L1326.9 1304.1 L1338.3 1305.1 L1349.8 1306.2 L1361.3 1307.2 L1372.7 1308.3 L1384.2 1309.5 L1395.6 1310.6 L1407.1 1311.8 L1418.5 1313.0 L1430.0 1314.3 L1441.4 1315.6 L1452.9 1317.0 L1464.4 1318.3 L1475.8 1319.7 L1487.3 1321.2 L1498.7 1322.7 L1510.2 1324.2 L1521.6 1325.7 L1533.1 1327.3 L1544.5 1328.9 L1556.0 1330.6 L1567.4 1332.3 L1578.9 1334.0 L1590.4 1335.7 L1601.8 1337.5 L1613.3 1339.3 L1624.7 1341.2 L1636.2 1343.1 L1647.6 1345.0 L1659.1 1347.0 L1670.5 1349.0 L1682.0 1351.0 L1693.5 1353.1 L1704.9 1355.2 L1716.4 1357.3 L1727.8 1359.5 L1739.3 1361.7 L1750.7 1363.9 L1762.2 1366.2 L1773.6 1368.5 L1785.1 1370.9 L1796.5 1373.2 L1808.0 1375.7 L1819.5 1378.1 L1830.9 1380.6 L1842.4 1383.1 L1853.8 1385.7 L1865.3 1388.3 L1876.7 1390.9 L1888.2 1393.5 L1899.6 1396.2 L1911.1 1398.9 L1922.6 1401.7 L1934.0 1404.5 L1945.5 1407.3 L1956.9 1410.2 L1968.4 1413.1 L1979.8 1416.0 L1991.3 1419.0 L2002.7 1422.0 L2014.2 1425.0 L2025.7 1428.1 L2037.1 1431.2 L2048.6 1434.4 L2060.0 1437.5 L2071.5 1440.8 L2082.9 1444.0 L2094.4 1447.3 L2105.8 1450.6 L2117.3 1453.9 L2128.7 1457.3" fill="none" stroke="#9467bd" stroke-width="2.4" stroke-linecap="square" stroke-linejoin="round"/>
<path d="M1281.1 1271.7 L1292.5 1272.5 L1304.0 1273.4 L1315.4 1274.3 L1326.9 1275.2 L1338.3 1276.2 L1349.8 1277.2 L1361.3 1278.2 L1372.7 1279.3 L1384.2 1280.4 L1395.6 1281.5 L1407.1 1282.7 L1418.5 1283.9 L1430.0 1285.2 L1441.4 1286.4 L1452.9 1287.8 L1464.4 1289.1 L1475.8 1290.5 L1487.3 1291.9 L1498.7 1293.4 L1510.2 1294.9 L1521.6 1296.5 L1533.1 1298.0 L1544.5 1299.6 L1556.0 1301.3 L1567.4 1303.0 L1578.9 1304.7 L1590.4 1306.4 L1601.8 1308.2 L1613.3 1310.1 L1624.7 1311.9 L1636.2 1313.8 L1647.6 1315.8 L1659.1 1317.7 L1670.5 1319.7 L1682.0 1321.8 L1693.5 1323.9 L1704.9 1326.0 L1716.4 1328.1 L1727.8 1330.3 L1739.3 1332.5 L1750.7 1334.8 L1762.2 1337.1 L1773.6 1339.4 L1785.1 1341.8 L1796.5 1344.2 L1808.0 1346.6 L1819.5 1349.1 L1830.9 1351.6 L1842.4 1354.1 L1853.8 1356.7 L1865.3 1359.3 L1876.7 1362.0 L1888.2 1364.7 L1899.6 1367.4 L1911.1 1370.2 L1922.6 1373.0 L1934.0 1375.8 L1945.5 1378.7 L1956.9 1381.6 L1968.4 1384.5 L1979.8 1387.5 L1991.3 1390.5 L2002.7 1393.6 L2014.2 1396.7 L2025.7 1399.8 L2037.1 1402.9 L2048.6 1406.1 L2060.0 1409.4 L2071.5 1412.6 L2082.9 1415.9 L2094.4 1419.3 L2105.8 1422.6 L2117.3 1426.1 L2128.7 1429.5" fill="none" stroke="#8c564b" stroke-width="2.4" stroke-linecap="square" stroke-linejoin="round"/>
<path d="M1281.1 1241.3 L1292.5 1242.1 L1304.0 1243.0 L1315.4 1243.9 L1326.9 1244.9 L1338.3 1245.9 L1349.8 1246.9 L1361.3 1248.0 L1372.7 1249.0 L1384.2 1250.2 L1395.6 1251.3 L1407.1 1252.5 L1418.5 1253.8 L1430.0 1255.1 L1441.4 1256.4 L1452.9 1257.7 L1464.4 1259.1 L1475.8 1260.5 L1487.3 1261.9 L1498.7 1263.4 L1510.2 1264.9 L1521.6 1266.5 L1533.1 1268.1 L1544.5 1269.7 L1556.0 1271.4 L1567.4 1273.1 L1578.9 1274.8 L1590.4 1276.6 L1601.8 1278.4 L1613.3 1280.2 L1624.7 1282.1 L1636.2 1284.0 L1647.6 1286.0 L1659.1 1287.9 L1670.5 1290.0 L1682.0 1292.0 L1693.5 1294.1 L1704.9 1296.2 L1716.4 1298.4 L1727.8 1300.6 L1739.3 1302.8 L1750.7 1305.1 L1762.2 1307.4 L1773.6 1309.7 L1785.1 1312.1 L1796.5 1314.5 L1808.0 1316.9 L1819.5 1319.4 L1830.9 1321.9 L1842.4 1324.5 L1853.8 1327.1 L1865.3 1329.7 L1876.7 1332.3 L1888.2 1335.0 L1899.6 1337.8 L1911.1 1340.5 L1922.6 1343.3 L1934.0 1346.2 L1945.5 1349.0 L1956.9 1351.9 L1968.4 1354.9 L1979.8 1357.8 L1991.3 1360.9 L2002.7 1363.9 L2014.2 1367.0 L2025.7 1370.1 L2037.1 1373.3 L2048.6 1376.4 L2060.0 1379.7 L2071.5 1382.9 L2082.9 1386.2 L2094.4 1389.6 L2105.8 1392.9 L2117.3 1396.3 L2128.7 1399.8" fill="none" stroke="#e377c2" stroke-width="2.4" stroke-linecap="square" stroke-linejoin="round"/>
<path d="M1281.1 1209.1 L1292.5 1209.9 L1304.0 1210.8 L1315.4 1211.7 L1326.9 1212.6 L1338.3 1213.6 L1349.8 1214.6 L1361.3 1215.7 L1372.7 1216.8 L1384.2 1217.9 L1395.6 1219.1 L1407.1 1220.3 L1418.5 1221.5 L1430.0 1222.8 L1441.4 1224.1 L1452.9 1225.4 L1464.4 1226.8 L1475.8 1228.2 L1487.3 1229.7 L1498.7 1231.2 L1510.2 1232.7 L1521.6 1234.3 L1533.1 1235.9 L1544.5 1237.5 L1556.0 1239.2 L1567.4 1240.9 L1578.9 1242.6 L1590.4 1244.4 L1601.8 1246.2 L1613.3 1248.1 L1624.7 1249.9 L1636.2 1251.9 L1647.6 1253.8 L1659.1 1255.8 L1670.5 1257.9 L1682.0 1259.9 L1693.5 1262.0 L1704.9 1264.2 L1716.4 1266.3 L1727.8 1268.6 L1739.3 1270.8 L1750.7 1273.1 L1762.2 1275.4 L1773.6 1277.8 L1785.1 1280.2 L1796.5 1282.6 L1808.0 1285.1 L1819.5 1287.6 L1830.9 1290.1 L1842.4 1292.7 L1853.8 1295.3 L1865.3 1297.9 L1876.7 1300.6 L1888.2 1303.3 L1899.6 1306.1 L1911.1 1308.9 L1922.6 1311.7 L1934.0 1314.6 L1945.5 1317.5 L1956.9 1320.4 L1968.4 1323.4 L1979.8 1326.4 L1991.3 1329.4 L2002.7 1332.5 L2014.2 1335.6 L2025.7 1338.8 L2037.1 1342.0 L2048.6 1345.2 L2060.0 1348.5 L2071.5 1351.8 L2082.9 1355.1 L2094.4 1358.5 L2105.8 1361.9 L2117.3 1365.3 L2128.7 1368.8" fill="none" stroke="#7f7f7f" stroke-width="2.4" stroke-linecap="square" stroke-linejoin="round"/>
<path d="M1223.8 1700.1 v9.7" stroke="#000" stroke-width="2.2"/>
<text x="1223.8" y="1745.7" font-size="36.1" text-anchor="middle">0.0</text>
<path d="M1338.3 1700.1 v9.7" stroke="#000" stroke-width="2.2"/>
<text x="1338.3" y="1745.7" font-size="36.1" text-anchor="middle">0.1</text>
<path d="M1452.9 1700.1 v9.7" stroke="#000" stroke-width="2.2"/>
<text x="1452.9" y="1745.7" font-size="36.1" text-anchor="middle">0.2</text>
<path d="M1567.5 1700.1 v9.7" stroke="#000" stroke-width="2.2"/>
<text x="1567.5" y="1745.7" font-size="36.1" text-anchor="middle">0.3</text>
<path d="M1682.0 1700.1 v9.7" stroke="#000" stroke-width="2.2"/>
<text x="1682.0" y="1745.7" font-size="36.1" text-anchor="middle">0.4</text>
<path d="M1796.5 1700.1 v9.7" stroke="#000" stroke-width="2.2"/>
<text x="1796.5" y="1745.7" font-size="36.1" text-anchor="middle">0.5</text>
<path d="M1911.1 1700.1 v9.7" stroke="#000" stroke-width="2.2"/>
<text x="1911.1" y="1745.7" font-size="36.1" text-anchor="middle">0.6</text>
<path d="M2025.7 1700.1 v9.7" stroke="#000" stroke-width="2.2"/>
<text x="2025.7" y="1745.7" font-size="36.1" text-anchor="middle">0.7</text>
<path d="M2140.2 1700.1 v9.7" stroke="#000" stroke-width="2.2"/>
<text x="2140.2" y="1745.7" font-size="36.1" text-anchor="middle">0.8</text>
<path d="M1223.8 1700.1 h-9.7" stroke="#000" stroke-width="2.2"/>
<text x="1205.2" y="1713.9" font-size="36.1" text-anchor="end">0.8</text>
<path d="M1223.8 1547.1 h-9.7" stroke="#000" stroke-width="2.2"/>
<text x="1205.2" y="1560.9" font-size="36.1" text-anchor="end">1.0</text>
<path d="M1223.8 1394.2 h-9.7" stroke="#000" stroke-width="2.2"/>
<text x="1205.2" y="1408.0" font-size="36.1" text-anchor="end">1.2</text>
<path d="M1223.8 1241.2 h-9.7" stroke="#000" stroke-width="2.2"/>
<text x="1205.2" y="1255.0" font-size="36.1" text-anchor="end">1.4</text>
<path d="M1223.8 1088.3 h-9.7" stroke="#000" stroke-width="2.2"/>
<text x="1205.2" y="1102.1" font-size="36.1" text-anchor="end">1.6</text>
<path d="M1223.8 935.3 h-9.7" stroke="#000" stroke-width="2.2"/>
<text x="1205.2" y="949.1" font-size="36.1" text-anchor="end">1.8</text>
<rect x="1223.8" y="935.3" width="916.4" height="764.8" fill="none" stroke="#000" stroke-width="2.2"/>
<text x="1682.0" y="1792.1" font-size="36.1" text-anchor="middle" style="font-kerning:none"><tspan font-style="italic">E</tspan>(<tspan font-style="italic">B</tspan><tspan dx="6.8">−</tspan><tspan font-style="italic" dx="6.8">V</tspan>)<tspan font-style="italic" font-size="24.8" dy="5.9">Planck<tspan font-style="normal">2019</tspan><tspan dx="5.5">−</tspan><tspan dx="5">Tau</tspan></tspan><tspan dy="-5.9" dx="8.7">(mag)</tspan></text>
<text transform="translate(1129.8 1318.4) rotate(-90)" font-size="36.1" text-anchor="middle" style="font-kerning:none"><tspan font-style="italic">R</tspan><tspan font-style="italic" font-size="24.8" dy="5.9">BP<tspan dx="5.5">−</tspan><tspan dx="5">RP</tspan></tspan></text>
<path d="M1604.1 964.4h6.0v3.5h3.5v6.0h-3.5v3.5h-6.0v-3.5h-3.5v-6.0h3.5z" fill="#1f77b4"/>
<text x="1654.1" y="977.0" font-size="25.6">4000~4500K</text>
<path d="M1604.1 1002.2h6.0v3.5h3.5v6.0h-3.5v3.5h-6.0v-3.5h-3.5v-6.0h3.5z" fill="#ff7f0e"/>
<text x="1654.1" y="1014.8" font-size="25.6">4500~5000K</text>
<path d="M1604.1 1040.0h6.0v3.5h3.5v6.0h-3.5v3.5h-6.0v-3.5h-3.5v-6.0h3.5z" fill="#2ca02c"/>
<text x="1654.1" y="1052.6" font-size="25.6">5000~5500K</text>
<path d="M1604.1 1077.8h6.0v3.5h3.5v6.0h-3.5v3.5h-6.0v-3.5h-3.5v-6.0h3.5z" fill="#d62728"/>
<text x="1654.1" y="1090.4" font-size="25.6">5500~6000K</text>
<path d="M1897.3 964.4h6.0v3.5h3.5v6.0h-3.5v3.5h-6.0v-3.5h-3.5v-6.0h3.5z" fill="#9467bd"/>
<text x="1947.3" y="977.0" font-size="25.6">6000~6500K</text>
<path d="M1897.3 1002.2h6.0v3.5h3.5v6.0h-3.5v3.5h-6.0v-3.5h-3.5v-6.0h3.5z" fill="#8c564b"/>
<text x="1947.3" y="1014.8" font-size="25.6">6500~7000K</text>
<path d="M1897.3 1040.0h6.0v3.5h3.5v6.0h-3.5v3.5h-6.0v-3.5h-3.5v-6.0h3.5z" fill="#e377c2"/>
<text x="1947.3" y="1052.6" font-size="25.6">7000~7500K</text>
<path d="M1897.3 1077.8h6.0v3.5h3.5v6.0h-3.5v3.5h-6.0v-3.5h-3.5v-6.0h3.5z" fill="#7f7f7f"/>
<text x="1947.3" y="1090.4" font-size="25.6">7500~8000K</text></g>
</svg>
</body></html>
